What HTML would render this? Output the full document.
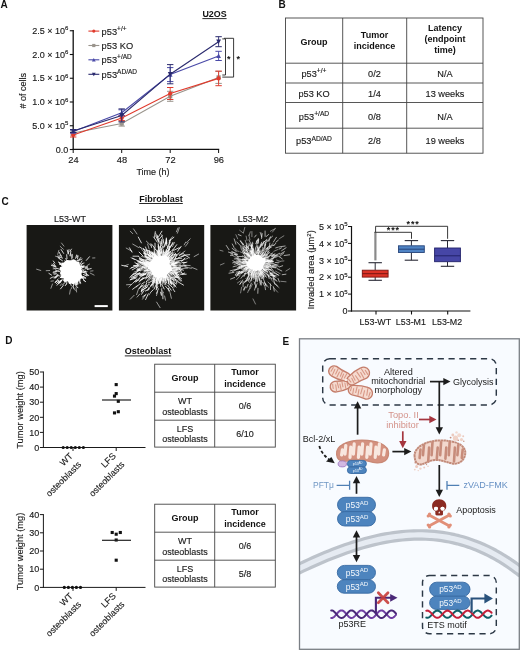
<!DOCTYPE html>
<html lang="en">
<head>
<meta charset="utf-8">
<title>Figure</title>
<style>
html,body{margin:0;padding:0;background:#fff;}
body{width:520px;height:650px;overflow:hidden;}
svg{display:block;font-family:"Liberation Sans", Arial, Helvetica, sans-serif;}
</style>
</head>
<body>
<svg width="520" height="650" viewBox="0 0 520 650">
<rect x="0" y="0" width="520" height="650" fill="#ffffff"/>
<g id="panelA">
<text x="0.4" y="8" font-size="10" text-anchor="start" font-weight="bold" fill="#111" >A</text>
<line x1="73.2" y1="30" x2="73.2" y2="150" stroke="#111" stroke-width="1.3" />
<line x1="72.6" y1="149.4" x2="219.2" y2="149.4" stroke="#111" stroke-width="1.3" />
<line x1="69.8" y1="149.5" x2="73.2" y2="149.5" stroke="#111" stroke-width="1.1" />
<text x="68.3" y="152.7" font-size="9" text-anchor="end" font-weight="normal" fill="#1a1a1a" stroke="#1a1a1a" stroke-width="0.14" >0.0</text>
<line x1="69.8" y1="125.75" x2="73.2" y2="125.75" stroke="#111" stroke-width="1.1" />
<text x="68.3" y="128.95" font-size="9" text-anchor="end" font-weight="normal" fill="#1a1a1a" stroke="#1a1a1a" stroke-width="0.14" >5.0 × 10<tspan font-size="6" dy="-3.5">5</tspan></text>
<line x1="69.8" y1="102.0" x2="73.2" y2="102.0" stroke="#111" stroke-width="1.1" />
<text x="68.3" y="105.2" font-size="9" text-anchor="end" font-weight="normal" fill="#1a1a1a" stroke="#1a1a1a" stroke-width="0.14" >1.0 × 10<tspan font-size="6" dy="-3.5">6</tspan></text>
<line x1="69.8" y1="78.25" x2="73.2" y2="78.25" stroke="#111" stroke-width="1.1" />
<text x="68.3" y="81.45" font-size="9" text-anchor="end" font-weight="normal" fill="#1a1a1a" stroke="#1a1a1a" stroke-width="0.14" >1.5 × 10<tspan font-size="6" dy="-3.5">6</tspan></text>
<line x1="69.8" y1="54.5" x2="73.2" y2="54.5" stroke="#111" stroke-width="1.1" />
<text x="68.3" y="57.7" font-size="9" text-anchor="end" font-weight="normal" fill="#1a1a1a" stroke="#1a1a1a" stroke-width="0.14" >2.0 × 10<tspan font-size="6" dy="-3.5">6</tspan></text>
<line x1="69.8" y1="30.75" x2="73.2" y2="30.75" stroke="#111" stroke-width="1.1" />
<text x="68.3" y="33.95" font-size="9" text-anchor="end" font-weight="normal" fill="#1a1a1a" stroke="#1a1a1a" stroke-width="0.14" >2.5 × 10<tspan font-size="6" dy="-3.5">6</tspan></text>
<line x1="73.2" y1="149.5" x2="73.2" y2="153" stroke="#111" stroke-width="1" />
<text x="73.4" y="162.6" font-size="9.3" text-anchor="middle" font-weight="normal" fill="#1a1a1a" stroke="#1a1a1a" stroke-width="0.14" >24</text>
<line x1="121.7" y1="149.5" x2="121.7" y2="153" stroke="#111" stroke-width="1" />
<text x="121.9" y="162.6" font-size="9.3" text-anchor="middle" font-weight="normal" fill="#1a1a1a" stroke="#1a1a1a" stroke-width="0.14" >48</text>
<line x1="170.2" y1="149.5" x2="170.2" y2="153" stroke="#111" stroke-width="1" />
<text x="170.39999999999998" y="162.6" font-size="9.3" text-anchor="middle" font-weight="normal" fill="#1a1a1a" stroke="#1a1a1a" stroke-width="0.14" >72</text>
<line x1="218.6" y1="149.5" x2="218.6" y2="153" stroke="#111" stroke-width="1" />
<text x="218.79999999999998" y="162.6" font-size="9.3" text-anchor="middle" font-weight="normal" fill="#1a1a1a" stroke="#1a1a1a" stroke-width="0.14" >96</text>
<text x="153" y="174.6" font-size="9" text-anchor="middle" font-weight="normal" fill="#1a1a1a" stroke="#1a1a1a" stroke-width="0.14" >Time (h)</text>
<text x="0" y="0" font-size="9" text-anchor="middle" font-weight="normal" fill="#1a1a1a" stroke="#1a1a1a" stroke-width="0.14" transform="translate(25.9,90.7) rotate(-90)"># of cells</text>
<text x="214.5" y="17.2" font-size="8.9" text-anchor="middle" font-weight="bold" fill="#111" >U2OS</text>
<line x1="202.4" y1="18.6" x2="226.6" y2="18.6" stroke="#111" stroke-width="0.9" />
<polyline points="73.2,133 121.7,123.6 170.2,96.3 218.6,77.4" fill="none" stroke="#9a948c" stroke-width="1.1"/>
<line x1="73.2" y1="131" x2="73.2" y2="135" stroke="#9a948c" stroke-width="0.9" />
<line x1="70.0" y1="131" x2="76.4" y2="131" stroke="#9a948c" stroke-width="1" />
<line x1="70.0" y1="135" x2="76.4" y2="135" stroke="#9a948c" stroke-width="1" />
<rect x="71.10000000000001" y="130.9" width="4.2" height="4.2" fill="#9a948c"/>
<line x1="121.7" y1="121.1" x2="121.7" y2="126.1" stroke="#9a948c" stroke-width="0.9" />
<line x1="118.5" y1="121.1" x2="124.9" y2="121.1" stroke="#9a948c" stroke-width="1" />
<line x1="118.5" y1="126.1" x2="124.9" y2="126.1" stroke="#9a948c" stroke-width="1" />
<rect x="119.60000000000001" y="121.5" width="4.2" height="4.2" fill="#9a948c"/>
<line x1="170.2" y1="91.3" x2="170.2" y2="101.3" stroke="#9a948c" stroke-width="0.9" />
<line x1="167.0" y1="91.3" x2="173.39999999999998" y2="91.3" stroke="#9a948c" stroke-width="1" />
<line x1="167.0" y1="101.3" x2="173.39999999999998" y2="101.3" stroke="#9a948c" stroke-width="1" />
<rect x="168.1" y="94.2" width="4.2" height="4.2" fill="#9a948c"/>
<line x1="218.6" y1="71.4" x2="218.6" y2="83.4" stroke="#9a948c" stroke-width="0.9" />
<line x1="215.4" y1="71.4" x2="221.79999999999998" y2="71.4" stroke="#9a948c" stroke-width="1" />
<line x1="215.4" y1="83.4" x2="221.79999999999998" y2="83.4" stroke="#9a948c" stroke-width="1" />
<rect x="216.5" y="75.30000000000001" width="4.2" height="4.2" fill="#9a948c"/>
<polyline points="73.2,135 121.7,118.1 170.2,93.5 218.6,78.4" fill="none" stroke="#e03a2c" stroke-width="1.1"/>
<line x1="73.2" y1="133" x2="73.2" y2="137" stroke="#e03a2c" stroke-width="0.9" />
<line x1="70.0" y1="133" x2="76.4" y2="133" stroke="#e03a2c" stroke-width="1" />
<line x1="70.0" y1="137" x2="76.4" y2="137" stroke="#e03a2c" stroke-width="1" />
<circle cx="73.2" cy="135" r="2.1" fill="#e03a2c"/>
<line x1="121.7" y1="115.6" x2="121.7" y2="120.6" stroke="#e03a2c" stroke-width="0.9" />
<line x1="118.5" y1="115.6" x2="124.9" y2="115.6" stroke="#e03a2c" stroke-width="1" />
<line x1="118.5" y1="120.6" x2="124.9" y2="120.6" stroke="#e03a2c" stroke-width="1" />
<circle cx="121.7" cy="118.1" r="2.1" fill="#e03a2c"/>
<line x1="170.2" y1="87.5" x2="170.2" y2="99.5" stroke="#e03a2c" stroke-width="0.9" />
<line x1="167.0" y1="87.5" x2="173.39999999999998" y2="87.5" stroke="#e03a2c" stroke-width="1" />
<line x1="167.0" y1="99.5" x2="173.39999999999998" y2="99.5" stroke="#e03a2c" stroke-width="1" />
<circle cx="170.2" cy="93.5" r="2.1" fill="#e03a2c"/>
<line x1="218.6" y1="71.10000000000001" x2="218.6" y2="85.7" stroke="#e03a2c" stroke-width="0.9" />
<line x1="215.4" y1="71.10000000000001" x2="221.79999999999998" y2="71.10000000000001" stroke="#e03a2c" stroke-width="1" />
<line x1="215.4" y1="85.7" x2="221.79999999999998" y2="85.7" stroke="#e03a2c" stroke-width="1" />
<circle cx="218.6" cy="78.4" r="2.1" fill="#e03a2c"/>
<polyline points="73.2,131.5 121.7,112.8 170.2,74.6 218.6,55.9" fill="none" stroke="#4a4aa8" stroke-width="1.1"/>
<line x1="73.2" y1="130.0" x2="73.2" y2="133.0" stroke="#4a4aa8" stroke-width="0.9" />
<line x1="70.0" y1="130.0" x2="76.4" y2="130.0" stroke="#4a4aa8" stroke-width="1" />
<line x1="70.0" y1="133.0" x2="76.4" y2="133.0" stroke="#4a4aa8" stroke-width="1" />
<path d="M70.80000000000001,133.6 L75.6,133.6 L73.2,129.1Z" fill="#4a4aa8"/>
<line x1="121.7" y1="109.8" x2="121.7" y2="115.8" stroke="#4a4aa8" stroke-width="0.9" />
<line x1="118.5" y1="109.8" x2="124.9" y2="109.8" stroke="#4a4aa8" stroke-width="1" />
<line x1="118.5" y1="115.8" x2="124.9" y2="115.8" stroke="#4a4aa8" stroke-width="1" />
<path d="M119.30000000000001,114.89999999999999 L124.1,114.89999999999999 L121.7,110.4Z" fill="#4a4aa8"/>
<line x1="170.2" y1="67.6" x2="170.2" y2="81.6" stroke="#4a4aa8" stroke-width="0.9" />
<line x1="167.0" y1="67.6" x2="173.39999999999998" y2="67.6" stroke="#4a4aa8" stroke-width="1" />
<line x1="167.0" y1="81.6" x2="173.39999999999998" y2="81.6" stroke="#4a4aa8" stroke-width="1" />
<path d="M167.79999999999998,76.69999999999999 L172.6,76.69999999999999 L170.2,72.2Z" fill="#4a4aa8"/>
<line x1="218.6" y1="51.3" x2="218.6" y2="60.5" stroke="#4a4aa8" stroke-width="0.9" />
<line x1="215.4" y1="51.3" x2="221.79999999999998" y2="51.3" stroke="#4a4aa8" stroke-width="1" />
<line x1="215.4" y1="60.5" x2="221.79999999999998" y2="60.5" stroke="#4a4aa8" stroke-width="1" />
<path d="M216.2,58.0 L221.0,58.0 L218.6,53.5Z" fill="#4a4aa8"/>
<polyline points="73.2,131 121.7,115.4 170.2,74.2 218.6,41.7" fill="none" stroke="#2a2a6e" stroke-width="1.1"/>
<line x1="73.2" y1="129.5" x2="73.2" y2="132.5" stroke="#2a2a6e" stroke-width="0.9" />
<line x1="70.0" y1="129.5" x2="76.4" y2="129.5" stroke="#2a2a6e" stroke-width="1" />
<line x1="70.0" y1="132.5" x2="76.4" y2="132.5" stroke="#2a2a6e" stroke-width="1" />
<path d="M70.80000000000001,128.9 L75.6,128.9 L73.2,133.4Z" fill="#2a2a6e"/>
<line x1="121.7" y1="108.9" x2="121.7" y2="121.9" stroke="#2a2a6e" stroke-width="0.9" />
<line x1="118.5" y1="108.9" x2="124.9" y2="108.9" stroke="#2a2a6e" stroke-width="1" />
<line x1="118.5" y1="121.9" x2="124.9" y2="121.9" stroke="#2a2a6e" stroke-width="1" />
<path d="M119.30000000000001,113.30000000000001 L124.1,113.30000000000001 L121.7,117.8Z" fill="#2a2a6e"/>
<line x1="170.2" y1="64.60000000000001" x2="170.2" y2="83.8" stroke="#2a2a6e" stroke-width="0.9" />
<line x1="167.0" y1="64.60000000000001" x2="173.39999999999998" y2="64.60000000000001" stroke="#2a2a6e" stroke-width="1" />
<line x1="167.0" y1="83.8" x2="173.39999999999998" y2="83.8" stroke="#2a2a6e" stroke-width="1" />
<path d="M167.79999999999998,72.10000000000001 L172.6,72.10000000000001 L170.2,76.6Z" fill="#2a2a6e"/>
<line x1="218.6" y1="36.7" x2="218.6" y2="46.7" stroke="#2a2a6e" stroke-width="0.9" />
<line x1="215.4" y1="36.7" x2="221.79999999999998" y2="36.7" stroke="#2a2a6e" stroke-width="1" />
<line x1="215.4" y1="46.7" x2="221.79999999999998" y2="46.7" stroke="#2a2a6e" stroke-width="1" />
<path d="M216.2,39.6 L221.0,39.6 L218.6,44.1Z" fill="#2a2a6e"/>
<line x1="88.4" y1="31.1" x2="99.3" y2="31.1" stroke="#e03a2c" stroke-width="1.1" />
<circle cx="93.8" cy="31.1" r="1.6" fill="#e03a2c"/>
<text x="101.6" y="34.5" font-size="9.3" text-anchor="start" font-weight="normal" fill="#1a1a1a" stroke="#1a1a1a" stroke-width="0.14" >p53<tspan font-size="6.5" dy="-4">+/+</tspan></text>
<line x1="88.4" y1="45.5" x2="99.3" y2="45.5" stroke="#9a948c" stroke-width="1.1" />
<rect x="92.2" y="43.9" width="3.2" height="3.2" fill="#9a948c"/>
<text x="101.6" y="48.9" font-size="9.3" text-anchor="start" font-weight="normal" fill="#1a1a1a" stroke="#1a1a1a" stroke-width="0.14" >p53 KO</text>
<line x1="88.4" y1="59.8" x2="99.3" y2="59.8" stroke="#4a4aa8" stroke-width="1.1" />
<path d="M91.9,61.4 L95.69999999999999,61.4 L93.8,57.9Z" fill="#4a4aa8"/>
<text x="101.6" y="63.199999999999996" font-size="9.3" text-anchor="start" font-weight="normal" fill="#1a1a1a" stroke="#1a1a1a" stroke-width="0.14" >p53<tspan font-size="6.5" dy="-4">+/AD</tspan></text>
<line x1="88.4" y1="74.3" x2="99.3" y2="74.3" stroke="#2a2a6e" stroke-width="1.1" />
<path d="M91.9,72.7 L95.69999999999999,72.7 L93.8,76.19999999999999Z" fill="#2a2a6e"/>
<text x="101.6" y="77.7" font-size="9.3" text-anchor="start" font-weight="normal" fill="#1a1a1a" stroke="#1a1a1a" stroke-width="0.14" >p53<tspan font-size="6.5" dy="-4">AD/AD</tspan></text>
<path d="M222.3,38.9 H225.5 V75 H222.3" fill="none" stroke="#222" stroke-width="0.9"/>
<path d="M224,38.3 H233.6 V77.1 H222.3" fill="none" stroke="#222" stroke-width="0.9"/>
<text x="228.7" y="61.8" font-size="9" text-anchor="middle" font-weight="bold" fill="#111" >*</text>
<text x="238.2" y="61.8" font-size="9" text-anchor="middle" font-weight="bold" fill="#111" >*</text>
</g>
<g id="panelB">
<text x="278.6" y="8" font-size="10" text-anchor="start" font-weight="bold" fill="#111" >B</text>
<rect x="285.5" y="18" width="197.5" height="135.2" fill="#fff" stroke="#444" stroke-width="0.9"/>
<line x1="342.7" y1="18" x2="342.7" y2="153.2" stroke="#444" stroke-width="0.9" />
<line x1="406.7" y1="18" x2="406.7" y2="153.2" stroke="#444" stroke-width="0.9" />
<line x1="285.5" y1="63.2" x2="483" y2="63.2" stroke="#444" stroke-width="0.9" />
<line x1="285.5" y1="83" x2="483" y2="83" stroke="#444" stroke-width="0.9" />
<line x1="285.5" y1="102.5" x2="483" y2="102.5" stroke="#444" stroke-width="0.9" />
<line x1="285.5" y1="128.2" x2="483" y2="128.2" stroke="#444" stroke-width="0.9" />
<text x="314" y="44.5" font-size="9" text-anchor="middle" font-weight="bold" fill="#111" >Group</text>
<text x="374.5" y="37.5" font-size="9" text-anchor="middle" font-weight="bold" fill="#111" >Tumor</text>
<text x="374.5" y="48.8" font-size="9" text-anchor="middle" font-weight="bold" fill="#111" >incidence</text>
<text x="445" y="31.3" font-size="9" text-anchor="middle" font-weight="bold" fill="#111" >Latency</text>
<text x="445" y="42.2" font-size="9" text-anchor="middle" font-weight="bold" fill="#111" >(endpoint</text>
<text x="445" y="53.2" font-size="9" text-anchor="middle" font-weight="bold" fill="#111" >time)</text>
<text x="314" y="76.8" font-size="9.2" text-anchor="middle" font-weight="normal" fill="#1a1a1a" stroke="#1a1a1a" stroke-width="0.14" >p53<tspan font-size="6.7" dy="-3.5">+/+</tspan></text>
<text x="374.5" y="76.8" font-size="9.2" text-anchor="middle" font-weight="normal" fill="#1a1a1a" stroke="#1a1a1a" stroke-width="0.14" >0/2</text>
<text x="445" y="76.8" font-size="9.2" text-anchor="middle" font-weight="normal" fill="#1a1a1a" stroke="#1a1a1a" stroke-width="0.14" >N/A</text>
<text x="314" y="96.6" font-size="9.2" text-anchor="middle" font-weight="normal" fill="#1a1a1a" stroke="#1a1a1a" stroke-width="0.14" >p53 KO</text>
<text x="374.5" y="96.6" font-size="9.2" text-anchor="middle" font-weight="normal" fill="#1a1a1a" stroke="#1a1a1a" stroke-width="0.14" >1/4</text>
<text x="445" y="96.6" font-size="9.2" text-anchor="middle" font-weight="normal" fill="#1a1a1a" stroke="#1a1a1a" stroke-width="0.14" >13 weeks</text>
<text x="314" y="119.5" font-size="9.2" text-anchor="middle" font-weight="normal" fill="#1a1a1a" stroke="#1a1a1a" stroke-width="0.14" >p53<tspan font-size="6.7" dy="-3.5">+/AD</tspan></text>
<text x="374.5" y="119.5" font-size="9.2" text-anchor="middle" font-weight="normal" fill="#1a1a1a" stroke="#1a1a1a" stroke-width="0.14" >0/8</text>
<text x="445" y="119.5" font-size="9.2" text-anchor="middle" font-weight="normal" fill="#1a1a1a" stroke="#1a1a1a" stroke-width="0.14" >N/A</text>
<text x="314" y="144.2" font-size="9.2" text-anchor="middle" font-weight="normal" fill="#1a1a1a" stroke="#1a1a1a" stroke-width="0.14" >p53<tspan font-size="6.7" dy="-3.5">AD/AD</tspan></text>
<text x="374.5" y="144.2" font-size="9.2" text-anchor="middle" font-weight="normal" fill="#1a1a1a" stroke="#1a1a1a" stroke-width="0.14" >2/8</text>
<text x="445" y="144.2" font-size="9.2" text-anchor="middle" font-weight="normal" fill="#1a1a1a" stroke="#1a1a1a" stroke-width="0.14" >19 weeks</text>
</g>
<g id="panelC">
<text x="1.4" y="204.6" font-size="10" text-anchor="start" font-weight="bold" fill="#111" >C</text>
<text x="161" y="201.9" font-size="9" text-anchor="middle" font-weight="bold" fill="#111" >Fibroblast</text>
<line x1="139.2" y1="203.5" x2="182.8" y2="203.5" stroke="#111" stroke-width="0.9" />
<text x="70" y="221.5" font-size="9" text-anchor="middle" font-weight="normal" fill="#1a1a1a" stroke="#1a1a1a" stroke-width="0.14" >L53-WT</text>
<text x="161.5" y="221.5" font-size="9" text-anchor="middle" font-weight="normal" fill="#1a1a1a" stroke="#1a1a1a" stroke-width="0.14" >L53-M1</text>
<text x="253" y="221.5" font-size="9" text-anchor="middle" font-weight="normal" fill="#1a1a1a" stroke="#1a1a1a" stroke-width="0.14" >L53-M2</text>
<defs><filter id="bl" x="-20%" y="-20%" width="140%" height="140%"><feGaussianBlur stdDeviation="0.35"/></filter><filter id="bl2" x="-30%" y="-30%" width="160%" height="160%"><feGaussianBlur stdDeviation="1.1"/></filter></defs>
<clipPath id="cp1"><rect x="26.6" y="225" width="85.8" height="85.5"/></clipPath>
<rect x="26.6" y="225" width="85.8" height="85.5" fill="#181815"/>
<g clip-path="url(#cp1)">
<path d="M58.7,275.2L55.1,278.3M62.4,265.8L59.5,263.7M59.4,258.6L57.8,257.1M76.8,257.3L77.8,255.5M87.4,269.5L91.2,268.5M82.8,272.4L85.0,272.3M74.9,280.5L76.3,282.0M78.4,260.5L80.8,257.5M56.6,271.3L53.3,272.0M85.4,270.9L87.0,274.7M67.3,280.5L65.0,282.2M58.6,280.5L55.7,281.6M85.6,267.4L87.6,267.3M51.6,275.1L48.9,273.4M81.9,276.5L85.8,278.4M63.2,285.5L60.5,288.9M78.6,278.0L79.2,280.2M76.2,281.4L77.0,284.7M75.8,282.7L76.9,284.8M62.3,276.2L60.0,277.9M85.2,268.7L88.1,268.7M59.0,281.0L56.3,283.8M83.5,280.2L85.7,281.7M66.3,280.5L64.3,281.5M81.0,277.4L83.6,278.2M53.2,276.8L50.2,278.4M54.8,263.0L53.3,261.0M75.8,261.5L78.0,260.2M70.0,251.2L71.5,249.1M61.2,263.6L59.1,262.7M86.1,275.0L88.7,275.4M77.5,259.0L78.0,256.2M76.8,282.1L77.7,284.1M79.5,260.3L82.0,259.0M80.1,266.3L81.8,265.2M80.3,274.9L82.5,277.0M62.3,266.9L61.2,264.0M62.6,258.1L59.0,256.8M77.1,278.3L77.6,280.3M80.2,269.2L83.5,267.2M56.1,273.0L53.1,272.9M55.9,266.7L51.4,265.4M70.0,255.6L70.9,251.3M63.6,253.4L61.1,249.5M58.1,278.9L55.5,282.6M61.9,279.9L59.7,283.0M81.6,277.0L84.7,281.0M60.5,280.4L58.8,283.7M56.2,277.2L54.1,278.0M60.7,263.4L58.4,262.0M67.0,258.6L66.7,254.7M81.6,272.0L85.7,271.8M74.1,280.5L76.4,284.6M79.9,264.4L82.0,261.0M74.7,281.4L73.4,285.6M61.8,279.7L60.4,282.4M78.5,279.5L80.2,283.7M81.2,268.1L83.1,266.3M61.0,274.6L59.0,276.4M60.0,271.7L55.6,270.8M82.5,270.0L84.4,271.3M83.4,274.5L86.8,276.0M66.4,284.0L65.2,285.7M84.8,273.4L87.3,274.6M77.1,278.4L80.6,280.0M61.4,256.7L59.3,252.3M67.1,261.6L65.8,258.4M56.5,273.9L54.0,274.2M69.8,281.7L71.2,285.5M71.8,259.1L71.7,254.7M79.2,266.0L83.1,263.2M58.1,275.3L53.9,277.4M62.3,280.1L58.3,282.4M57.5,274.5L56.1,276.8M68.2,254.0L67.3,250.1M86.3,260.4L89.5,256.7M55.0,267.4L53.0,265.3M65.8,279.0L65.0,282.2M55.6,266.2L53.6,263.4M83.3,276.4L85.5,277.6M64.2,283.3L62.5,285.0M68.3,253.6L69.0,249.6M82.4,267.3L87.3,266.7M60.2,269.4L56.2,268.2M62.5,260.8L58.7,258.2M60.1,281.7L57.0,285.3M74.7,284.1L77.9,287.8M74.7,281.9L76.0,285.2M64.0,265.6L59.4,264.2M75.6,258.4L76.6,255.0M67.9,262.4L64.6,260.9M80.6,266.4L84.0,266.3M78.7,278.9L80.7,282.9M67.2,280.3L66.5,284.1M79.9,266.9L84.2,265.9" stroke="#fff" stroke-width="0.8" stroke-linecap="round" fill="none" opacity="1" filter="url(#bl)"/>
<path d="M73.4,285.8L73.7,288.8M61.6,283.7L60.2,285.6M59.0,270.5L56.4,270.8M56.2,268.4L53.1,268.9M76.8,280.0L78.1,283.6M59.8,257.7L55.5,256.2M73.0,286.6L75.3,290.4M81.5,264.1L84.2,263.0M90.6,271.1L93.0,270.8M72.3,286.5L71.1,289.0M53.4,280.9L51.0,281.2M56.7,281.5L54.9,282.4M92.6,258.0L94.9,257.9M49.7,270.5L46.2,270.7M80.1,275.5L82.1,276.0M55.2,265.9L51.8,264.2M76.0,287.1L76.6,292.0M80.2,266.9L82.4,266.7M72.6,257.7L72.5,254.3M56.2,269.8L53.1,267.6M77.5,262.0L79.5,259.3M70.3,256.2L70.7,253.6M90.2,273.1L94.1,275.1M63.9,246.1L61.5,243.0M40.8,270.5L36.6,269.2M70.3,289.9L69.6,294.1M52.5,284.0L50.9,288.3M63.4,249.3L60.2,246.4M81.7,276.2L84.1,278.6M83.2,272.1L87.1,271.6M86.9,265.7L89.5,264.1M61.3,255.6L57.7,256.1M57.7,254.4L58.9,250.3M80.4,270.2L84.2,269.6M63.6,276.8L61.9,278.8" stroke="#fff" stroke-width="0.6" stroke-linecap="round" fill="none" opacity="0.9" filter="url(#bl)"/>
<polygon points="82.6,271.3 81.6,273.1 81.6,275.0 82.7,277.9 80.4,279.0 78.9,280.3 78.0,282.8 75.4,282.6 73.6,284.5 71.3,283.5 69.1,283.9 67.8,281.0 65.3,281.8 63.2,281.0 63.5,277.9 59.9,277.9 61.3,274.9 59.8,273.3 60.7,271.3 59.7,269.3 59.9,267.2 62.4,266.2 61.1,262.8 63.9,262.5 65.4,261.0 67.2,259.9 69.3,260.2 71.3,260.3 73.4,259.2 75.4,260.1 76.8,261.7 79.3,261.7 79.8,264.2 80.1,266.2 81.5,267.6 81.4,269.5" fill="#fff" filter="url(#bl)"/>
</g>
<clipPath id="cp2"><rect x="118.9" y="225" width="85.3" height="85.5"/></clipPath>
<rect x="118.9" y="225" width="85.3" height="85.5" fill="#181815"/>
<g clip-path="url(#cp2)">
<circle cx="160.3" cy="266.8" r="16" fill="#fff" opacity="0.45" filter="url(#bl2)"/>
<path d="M183.1,255.2L189.7,254.7M145.4,274.5L142.0,275.4M165.2,279.7L166.9,283.2M175.5,275.9L179.5,278.4M138.3,265.1L134.8,262.4M143.0,256.0L139.1,252.1M172.9,264.4L178.3,261.6M153.1,255.4L152.4,252.2M139.3,270.3L134.9,273.5M164.7,276.4L165.8,280.5M164.8,256.6L166.4,253.5M157.7,282.9L156.3,289.0M153.7,278.6L152.5,282.5M148.4,263.0L146.2,260.4M164.6,246.9L166.1,240.7M174.8,258.7L181.6,258.2M173.0,289.0L174.8,291.7M167.5,248.5L170.2,242.2M169.8,240.4L173.9,237.3M144.0,290.5L141.6,294.3M163.6,275.6L164.0,280.5M170.8,263.4L173.9,264.9M149.4,264.8L144.4,263.3M137.0,279.3L133.5,282.5M146.7,287.4L141.4,290.7M143.2,277.3L139.1,282.1M152.5,257.4L148.6,255.9M143.5,260.5L138.6,256.5M173.0,277.1L177.3,277.4M160.6,292.2L161.4,295.4M143.9,260.1L139.9,260.0M140.2,273.4L137.5,274.7M144.6,282.1L141.7,284.2M155.6,256.7L152.9,252.7M151.7,271.3L148.7,276.3M142.9,262.4L138.0,260.9M153.2,289.8L150.8,292.1M137.2,267.1L132.2,269.9M149.9,258.8L146.2,256.8M172.5,263.6L177.1,263.6M139.8,278.1L136.2,281.5M158.6,276.3L158.3,280.1M158.4,288.8L156.5,293.4M171.4,277.4L174.0,281.4M167.8,257.5L171.9,252.6M154.2,259.9L155.8,253.9M158.2,279.7L157.3,283.2M159.2,252.3L158.1,246.7M157.8,276.0L156.8,282.6M183.3,263.3L186.9,262.1M176.4,268.7L180.0,269.0M155.7,249.4L152.0,244.5M168.0,250.8L169.9,245.8M177.7,278.3L180.5,280.9M148.5,272.7L146.2,277.6M147.5,272.2L142.7,275.2M159.4,238.9L162.2,235.6M170.3,265.7L173.5,262.6M163.9,243.2L163.0,240.2M161.2,249.8L162.7,246.3M152.5,272.0L150.8,275.9M147.4,258.7L144.7,255.7M152.9,283.8L149.8,287.4M132.0,252.2L129.5,247.8M149.2,256.0L149.6,250.5M152.1,253.7L149.3,252.0M167.8,255.0L170.5,251.4M137.3,285.7L132.6,289.3M155.1,247.3L155.0,243.2M174.8,272.9L178.2,276.6M150.3,264.1L147.0,263.8M151.9,256.4L148.5,252.0M160.3,248.3L160.9,243.2M171.8,265.2L175.9,265.9M142.7,267.5L136.8,269.3M179.7,269.5L182.5,274.0M168.8,260.7L174.5,260.0M177.6,281.6L183.5,285.1M175.7,279.7L176.8,282.9M154.6,237.2L155.3,231.7M147.6,265.9L143.2,263.0M168.1,259.0L172.2,254.7M159.2,257.3L159.2,251.0M176.0,273.1L178.9,275.2M168.8,265.5L175.0,264.7M138.5,256.2L133.0,256.2M172.8,281.8L176.6,284.0M171.8,258.9L176.2,254.3M170.9,272.8L176.6,272.8M165.6,286.3L169.5,291.0M166.6,274.7L167.6,279.9M145.6,274.0L140.2,277.1M143.0,264.4L138.9,260.8M166.7,256.6L168.3,251.4M169.2,248.7L173.2,243.1M146.2,266.1L142.4,266.2M127.7,266.6L121.7,265.3M143.3,285.0L139.5,288.0M168.5,279.6L168.9,283.6M179.7,265.7L185.7,266.0M169.1,279.4L172.2,284.0M182.1,274.4L186.2,274.2M159.2,251.1L158.2,245.0M146.0,273.8L140.1,275.7M144.3,277.8L140.7,280.5M179.5,248.8L181.2,246.3M173.6,250.4L178.8,247.9M162.8,248.3L166.1,242.2M176.5,261.2L183.1,260.2M143.3,263.6L137.1,260.8M147.5,252.1L145.5,247.0M159.1,248.4L158.2,243.9M154.7,275.7L153.5,278.5M172.7,273.7L175.9,276.8M178.4,257.7L183.8,256.0M172.2,277.5L175.7,279.4M173.9,265.5L180.4,264.9M145.5,251.6L143.2,248.3M184.5,254.8L189.4,257.8M171.2,281.4L175.3,285.7M158.7,253.2L155.4,249.3M172.4,270.9L176.7,270.7M162.9,257.0L164.2,254.0M137.1,276.8L132.9,278.1M174.0,276.9L178.3,277.4M139.6,272.7L134.8,275.5M172.8,250.1L176.7,244.7M137.3,266.1L131.3,267.7M157.2,242.1L153.6,237.0M173.9,270.6L179.8,271.5M179.3,255.3L183.6,253.2M154.0,257.2L154.4,254.1M172.3,255.2L175.6,254.2M161.6,243.5L161.7,239.5M149.3,265.2L144.3,267.5M168.3,274.0L170.9,277.7M173.6,266.9L180.4,268.0M166.0,256.7L167.3,253.0M151.8,256.8L149.9,253.5M168.4,288.3L169.2,291.4M148.9,263.9L144.0,260.6M159.6,257.9L159.3,253.2M153.3,280.3L148.4,282.9M157.8,286.8L156.2,289.9M169.1,272.7L171.9,274.6M178.0,277.5L181.8,281.0M143.5,267.2L137.2,266.7M155.9,259.3L153.5,254.8M142.0,248.5L139.4,246.9M152.3,262.4L147.7,258.6M175.3,262.6L181.0,263.1M166.9,252.6L166.4,249.3M166.9,243.7L166.4,238.0M150.7,257.4L151.1,251.3M162.1,278.0L158.9,283.8M146.4,277.3L141.2,279.6M169.5,260.3L171.7,257.8M151.3,271.4L148.4,273.0M151.8,262.9L147.9,261.7M169.2,242.5L170.5,239.7M164.1,256.6L168.7,252.8M170.9,262.0L174.5,261.2M147.6,286.6L142.5,290.0M158.3,237.1L161.9,231.2M170.2,282.1L171.5,284.9M161.5,277.8L160.2,282.0M133.5,273.8L129.7,277.5M167.8,285.3L171.2,290.3M166.2,253.0L169.7,249.2M141.4,242.9L138.3,237.1M149.3,284.3L143.7,287.4M148.9,287.7L147.8,290.5M145.6,260.2L139.3,258.5M164.9,274.6L168.7,279.2M163.2,253.1L163.2,249.2M146.6,264.5L142.3,264.1M155.9,255.3L151.9,253.5M167.3,276.5L170.7,278.8M154.3,280.8L150.5,285.8M144.2,274.1L139.2,273.7M151.3,260.0L145.9,259.2M147.8,258.2L143.8,252.6M164.1,274.7L165.8,277.8M159.4,257.0L158.4,252.9M153.9,260.6L152.8,256.0M140.2,283.6L136.2,287.0M165.3,254.4L166.2,250.0M156.5,256.7L152.8,253.9M155.5,277.2L154.1,280.4M154.9,273.8L152.4,279.1M153.4,259.9L152.1,253.2M167.2,248.0L168.2,245.0M158.6,278.1L159.1,281.1M146.8,282.6L145.5,286.3M158.4,276.6L156.7,280.1M158.2,241.2L155.9,236.0M141.9,288.7L141.7,292.0M154.5,254.0L154.2,247.7M161.3,245.7L160.7,241.7M168.8,253.3L169.5,246.7M158.1,255.4L158.0,250.1M146.1,294.3L142.6,296.9M166.2,243.7L166.3,239.2M149.8,277.3L146.2,281.9M149.4,266.2L144.2,268.3M136.3,275.3L131.1,277.4M151.4,252.5L147.5,250.1M151.5,270.4L147.6,271.0M168.9,269.8L173.3,270.1M163.7,277.5L163.9,282.2M157.3,278.2L156.0,283.0M174.1,268.0L180.7,267.7M150.6,256.2L144.7,252.6M165.3,259.2L165.2,255.4M163.9,253.0L169.5,249.5M149.3,256.3L146.5,250.7M144.7,263.3L141.1,262.3M157.3,276.0L156.9,279.0M157.6,275.5L156.4,280.3M147.8,269.7L144.0,270.3M147.0,263.3L145.6,260.4M161.7,284.2L164.2,289.0M160.4,282.3L160.7,286.4M170.9,269.9L176.4,274.2M162.0,253.5L160.6,246.7M149.6,288.7L145.4,291.0M167.4,259.4L169.3,255.2M167.1,259.1L171.5,257.6M164.6,275.0L165.4,278.5M136.1,278.1L130.7,279.7M161.2,253.4L160.6,249.2M171.8,268.3L178.3,270.0M174.1,271.4L177.8,272.6M138.6,265.4L133.7,265.6M173.9,284.0L174.1,287.0M177.6,251.3L180.0,247.5M148.9,255.2L143.7,253.6M154.5,282.1L152.1,284.3M180.6,274.6L184.7,273.1M158.4,256.1L161.1,251.7M141.7,268.8L137.7,269.8M145.5,256.6L144.7,250.9M160.5,255.7L159.3,249.7M148.3,293.8L145.6,299.6M172.8,258.1L175.5,253.3M146.5,263.6L140.7,259.9M151.1,266.7L145.0,265.3M149.2,270.2L144.4,270.8M144.6,273.0L139.5,275.3M161.1,276.7L161.9,280.9M136.1,273.5L133.1,274.1M158.8,241.9L157.1,235.2M151.9,262.5L147.8,262.5M182.1,262.4L185.4,262.5M171.8,278.9L175.3,280.5M146.8,262.9L140.2,262.4M156.8,279.5L155.9,283.0M154.6,260.0L152.6,256.5M168.9,244.3L170.2,240.2M148.9,251.1L143.2,249.2M154.9,278.4L153.0,282.0M149.2,264.0L146.6,261.9M171.1,268.5L174.5,267.4M140.9,262.5L136.3,263.6M176.8,275.1L181.6,278.8M151.5,247.4L150.9,243.8M149.6,275.9L145.4,279.0M141.4,285.4L139.3,288.5M169.0,284.3L173.1,287.9M175.6,273.1L179.3,274.9M134.2,276.9L130.2,279.8M156.6,283.6L154.2,288.9M166.8,272.5L169.4,276.3M168.0,279.1L168.8,284.0M172.4,264.7L176.1,263.0M161.0,278.2L158.8,283.6M150.8,265.0L144.9,262.6M145.0,262.2L139.6,259.3M170.3,280.3L171.2,283.9M161.9,256.9L163.5,254.2M165.1,281.8L165.9,284.9M159.1,243.3L158.8,238.8M164.6,256.8L163.4,250.8M166.4,245.3L166.2,238.9M160.1,275.8L160.0,279.4M144.2,267.5L141.4,268.8M174.7,259.6L176.7,254.6M143.2,269.8L137.1,270.7M172.4,283.0L176.1,287.1M147.3,265.6L144.4,264.8M169.7,248.2L172.9,242.4M170.1,260.9L172.7,257.8M140.4,270.8L137.5,269.0M178.8,268.4L183.4,270.2M181.5,261.3L185.0,258.0M159.7,275.6L160.3,282.6M137.1,260.3L132.4,258.2M162.8,292.6L162.9,298.8M156.5,280.7L156.7,287.6M149.4,264.8L144.2,263.9" stroke="#fff" stroke-width="0.8" stroke-linecap="round" fill="none" opacity="1" filter="url(#bl)"/>
<path d="M175.8,274.3L177.6,277.2M148.4,266.4L143.9,265.6M171.8,257.0L172.3,252.9M145.7,253.7L141.9,249.7M139.8,294.0L137.1,297.1M168.9,240.9L172.6,236.6M184.9,267.1L191.4,268.3M162.4,277.2L162.5,280.8M134.2,266.5L129.9,268.8M177.4,233.2L179.3,227.7M150.6,267.0L146.6,265.8M158.7,255.8L161.5,252.4M140.0,277.6L135.1,282.4M131.4,284.4L126.5,284.8M162.6,245.2L163.3,239.4M138.5,274.4L134.0,278.1M146.4,257.6L141.6,256.5M156.1,275.6L154.7,278.5M165.8,275.0L166.9,279.4M179.5,255.0L185.0,251.1M137.0,234.0L133.5,228.9M174.1,263.4L179.6,262.1M194.1,256.6L198.6,254.1M156.9,256.9L157.4,250.7M175.2,267.1L180.6,270.5M171.8,253.8L173.0,249.3M140.1,269.5L136.6,271.1M178.7,269.0L181.7,270.3M151.2,263.2L147.5,263.9M184.0,265.1L190.2,265.6M141.9,274.7L136.9,273.4M181.6,268.5L187.5,268.2M185.4,246.3L188.2,242.7M170.0,292.5L171.4,298.3M167.4,253.9L172.2,250.2M155.0,279.7L152.0,286.0M191.7,267.4L197.0,269.5M175.8,255.5L180.1,252.3M150.4,256.6L146.8,252.5M158.6,257.8L158.0,251.2M164.6,296.0L165.5,300.2M156.1,255.2L153.7,252.1M156.6,302.1L160.1,307.7M170.3,262.5L175.7,263.4M163.6,280.6L164.3,284.8M163.2,280.5L162.3,284.0M157.6,291.6L156.5,295.6M172.5,268.9L177.5,269.7M154.4,281.6L152.9,287.5M171.3,256.4L174.3,252.0M143.6,286.9L141.2,291.6M171.4,272.6L177.1,275.6M174.4,259.7L177.6,259.0M170.8,277.8L170.8,281.1M144.3,267.2L137.8,264.6M172.3,246.7L174.6,242.4M161.5,257.6L162.7,254.1M150.9,245.6L146.3,241.1M160.2,278.3L159.0,282.2M162.7,238.9L161.7,234.6M157.9,237.9L155.7,233.4M148.0,270.4L143.0,272.2M168.5,256.4L170.6,252.3M181.3,256.3L184.6,255.5M144.2,265.1L140.2,263.1M145.4,285.0L142.5,286.9M141.8,264.7L137.5,261.2M146.5,264.6L143.1,263.1M163.7,258.6L165.3,253.5M170.8,264.5L174.5,264.9M174.7,267.8L177.5,269.6M170.9,262.9L176.2,261.9M171.4,264.2L174.8,263.0M131.9,251.2L126.2,248.1M173.9,278.6L178.2,281.0M151.0,259.5L146.7,255.7M167.6,271.4L173.6,273.7M140.8,265.2L138.0,264.0M176.4,231.8L178.0,227.9M149.1,249.0L147.6,244.0M149.4,257.7L144.5,256.6M132.8,233.7L130.3,231.2M137.5,265.3L133.9,265.7M134.6,259.5L131.0,257.7M147.9,269.8L143.8,267.6M150.5,278.3L148.2,281.3M184.2,244.9L185.7,242.1M161.8,288.1L161.5,294.4M134.1,295.3L130.3,299.2M170.5,278.1L171.5,283.3M164.4,276.2L165.6,280.5M137.6,270.8L134.1,272.1M138.6,288.7L136.6,294.6M172.6,267.3L176.9,266.7M175.2,272.4L180.6,273.0M128.3,264.5L124.6,265.8M156.6,278.9L154.3,282.5M175.2,257.6L178.3,254.2M153.4,260.6L149.0,258.3M140.4,279.9L135.0,281.4M177.9,266.9L182.5,266.2M164.6,255.7L166.7,252.2M145.4,295.2L142.5,299.2M150.7,292.4L149.1,295.0M161.4,289.7L163.4,292.4M135.4,273.2L131.1,276.1M186.5,242.8L190.2,238.8M168.1,252.1L167.8,246.5M133.3,282.8L128.8,287.1M183.0,264.9L186.8,266.0M150.2,268.1L146.1,268.3M138.6,247.5L132.7,244.1M151.6,271.1L148.4,274.5M166.3,259.1L167.2,254.5M158.5,252.7L159.6,246.5M152.9,260.8L148.3,257.3M183.8,259.6L187.9,258.4M151.2,263.0L146.9,261.3M159.0,277.3L157.1,283.6M169.1,281.5L172.3,283.8" stroke="#fff" stroke-width="0.6" stroke-linecap="round" fill="none" opacity="0.95" filter="url(#bl)"/>
<polygon points="171.7,266.8 171.9,268.9 172.2,271.1 169.4,272.0 168.4,273.6 166.9,274.7 166.6,277.8 164.5,278.3 162.2,277.4 160.3,277.8 158.2,278.9 156.4,277.6 154.5,276.8 153.2,275.2 151.4,274.2 151.9,271.6 150.7,270.3 148.1,268.9 147.7,266.8 149.0,264.8 149.2,262.8 150.7,261.3 152.0,259.8 152.9,258.0 154.2,256.3 156.0,255.0 158.5,256.5 160.3,255.7 162.2,255.9 164.4,255.5 166.5,256.0 168.5,257.0 169.4,259.2 170.3,261.0 169.7,263.4 170.0,265.1" fill="#fff" filter="url(#bl)"/>
</g>
<clipPath id="cp3"><rect x="210.4" y="225" width="85.7" height="85.5"/></clipPath>
<rect x="210.4" y="225" width="85.7" height="85.5" fill="#181815"/>
<g clip-path="url(#cp3)">
<circle cx="256.2" cy="262.8" r="13" fill="#fff" opacity="0.4" filter="url(#bl2)"/>
<path d="M252.9,255.5L252.6,250.9M240.1,261.3L236.7,263.0M248.2,261.4L243.4,261.6M243.4,275.1L241.0,278.3M284.2,255.5L289.6,254.8M253.5,273.8L251.9,278.5M263.7,248.6L265.5,244.2M246.9,261.2L242.9,260.7M273.7,263.8L278.8,266.4M267.9,264.5L270.8,265.6M268.9,247.5L273.0,243.6M251.6,248.8L252.9,243.2M248.6,255.3L244.4,252.7M250.8,257.8L247.8,255.0M249.8,260.4L246.5,257.1M252.4,268.8L247.9,272.8M264.3,266.3L268.2,268.0M241.5,265.2L237.2,264.1M253.7,271.7L254.2,276.6M262.1,259.3L265.4,258.2M249.4,259.9L244.3,259.2M265.1,287.1L265.5,289.7M264.6,245.4L266.5,240.1M233.0,255.3L230.4,255.3M267.1,247.8L269.6,245.9M266.7,263.1L271.0,263.0M272.0,265.6L276.1,265.1M235.9,244.2L234.2,238.9M273.5,241.9L276.4,237.3M241.4,267.9L235.9,269.8M247.2,249.8L245.5,247.6M260.7,268.5L264.2,272.2M271.6,256.8L274.2,255.8M251.6,245.1L248.9,239.9M261.1,271.2L260.3,274.7M250.4,257.1L248.7,253.3M278.0,278.4L279.4,281.9M248.5,276.7L245.9,281.3M269.5,269.6L274.6,272.4M252.7,256.1L251.6,250.9M265.1,236.4L265.1,231.0M240.2,259.1L234.3,258.9M264.1,274.0L266.4,277.3M259.7,246.7L261.7,242.2M255.6,275.9L255.1,278.9M242.8,244.6L240.7,240.6M257.7,255.1L259.6,251.2M256.3,272.7L254.5,278.1M246.7,259.8L242.6,259.1M239.9,275.1L235.3,275.2M246.6,249.4L246.4,244.8M248.8,256.4L246.4,252.9M273.2,257.4L277.2,255.5M243.6,263.1L238.9,263.3M250.7,269.2L247.2,273.4M233.9,272.4L229.0,273.2M261.2,269.0L263.0,272.8M273.0,277.3L276.9,281.4M268.5,249.6L270.1,247.5M270.0,266.4L273.2,270.6M255.7,273.9L256.1,278.6M258.2,255.1L258.4,252.1M252.6,271.2L252.3,275.3M264.8,243.5L269.0,240.0M255.9,279.0L254.9,284.1M265.9,255.4L269.1,250.8M252.6,256.1L250.2,250.9M279.8,256.4L283.9,252.9M257.9,243.3L258.0,240.4M247.3,262.4L242.3,262.3M264.5,257.9L267.8,254.8M247.3,263.1L244.4,259.4M242.6,265.7L238.6,266.2M249.4,257.8L246.7,255.1M237.7,254.8L234.8,254.0M258.0,288.3L257.8,293.3M282.2,274.7L285.9,274.2M258.0,273.0L259.6,276.2M233.7,246.7L232.3,244.0M248.7,264.3L243.9,265.7M275.6,273.0L278.2,275.3M249.2,270.3L248.3,274.7M244.4,265.5L238.9,267.8M255.7,249.1L256.4,245.8M249.1,266.8L246.2,267.8M244.0,266.6L241.5,268.5M261.2,267.5L265.1,270.0M248.2,279.7L243.6,283.2M245.5,273.9L243.9,276.6M237.1,269.2L232.2,271.9M241.8,271.2L238.3,273.8M264.4,265.6L268.1,267.2M253.9,271.5L254.1,275.0M263.6,242.3L266.9,239.4M277.1,268.6L281.8,271.0M247.2,265.5L241.3,266.2M245.5,251.4L242.5,249.9M258.0,251.1L259.6,247.4M249.6,274.1L247.7,277.2M279.3,246.9L285.1,246.0M241.4,282.2L239.7,284.6M248.9,255.6L247.0,252.6M269.1,274.9L273.6,276.2M275.9,242.2L278.4,240.1M266.7,249.0L271.3,247.3M250.8,268.5L246.5,268.8M248.1,278.3L244.8,281.7M259.0,250.7L257.3,246.8M238.6,263.0L234.2,264.3M244.4,263.5L239.2,264.7M273.9,257.8L277.4,256.6M277.8,255.6L282.3,258.9M238.3,257.3L235.1,254.5M268.5,261.5L273.3,261.5M267.9,275.0L269.2,278.6M252.0,252.1L250.4,248.7M259.7,248.3L261.4,244.0M242.7,280.0L240.1,284.0M261.9,246.3L264.2,241.8M258.1,243.0L258.7,239.5M235.5,269.4L230.1,270.9M268.1,262.0L270.5,265.6M262.3,273.8L264.1,276.4M262.6,251.1L267.5,247.9M270.7,272.6L275.0,276.8M246.9,265.7L241.4,266.4M249.5,261.9L246.0,263.0M261.3,281.1L261.3,285.1M245.0,255.9L242.2,250.9M270.7,237.9L272.6,236.1M259.3,273.7L261.7,278.7M247.4,251.1L242.7,248.2M244.2,264.9L241.1,265.6M248.4,264.3L244.4,265.8M243.0,244.5L240.1,241.0M251.0,267.6L248.4,271.1M247.1,273.1L244.5,273.6M264.2,282.3L266.5,286.2M251.3,248.0L252.4,242.2M255.7,243.7L258.4,238.4M262.7,260.8L265.7,259.2M242.9,256.5L237.9,256.5M263.3,268.9L266.6,269.8M246.2,267.6L241.9,269.5M263.3,269.1L268.0,272.7M247.5,268.6L244.6,271.6M269.4,245.7L269.8,243.1M247.0,268.5L246.0,271.5M248.1,284.3L246.7,287.8M261.8,258.7L264.2,258.1M253.6,256.0L251.4,253.4M250.0,277.7L248.0,280.7M236.2,251.4L232.1,248.3M243.4,271.7L240.7,274.1M253.1,270.1L250.5,272.8M266.9,267.3L269.3,268.0M257.1,253.3L259.1,249.2M269.6,256.1L272.1,254.3M249.3,265.7L246.0,268.8M261.2,272.3L262.2,277.7M245.2,248.6L242.8,246.0M272.6,275.4L274.3,278.2M262.5,268.6L265.4,270.9M244.4,252.9L243.2,247.4M251.9,271.9L251.6,276.9M274.4,273.2L278.9,275.1M251.4,283.1L250.0,286.4M262.7,267.1L264.0,270.1M242.8,262.8L238.2,259.9M248.9,273.2L248.6,276.2M262.7,273.4L263.5,276.9M236.3,249.9L234.0,247.5M264.0,258.3L268.1,257.5M259.7,273.5L258.9,276.1M273.7,245.7L275.8,243.3M271.6,256.0L274.0,254.4M262.7,282.3L264.8,286.3M281.6,250.7L286.1,247.7M264.7,259.9L268.4,259.1M241.1,235.7L238.3,234.6M243.3,272.6L238.1,274.0M243.0,281.5L243.1,286.8M270.2,254.2L272.8,252.9M242.6,259.6L237.3,258.9M254.6,237.1L256.2,235.1M248.0,266.4L244.2,269.0M242.2,262.4L236.4,261.3M270.8,274.5L275.4,275.9M275.2,262.6L279.1,262.2M267.9,252.6L267.8,249.4M258.2,271.4L257.4,274.8M264.1,266.8L268.5,268.1M279.8,254.5L284.4,251.6M236.3,265.9L233.1,266.8M266.9,273.8L269.3,276.0M259.8,278.0L259.9,283.1M261.4,257.9L265.4,253.7M258.8,275.7L259.1,280.2M260.2,271.8L260.4,276.0M279.3,267.0L282.7,265.7M263.0,252.6L265.3,250.4M265.6,252.3L267.5,248.1M248.3,253.2L246.2,250.4M254.4,270.5L255.3,273.8M265.6,273.1L269.0,276.4M261.7,245.5L264.0,241.4M251.1,258.0L249.1,255.1M263.7,269.6L267.4,271.4M248.7,249.4L247.5,246.2M252.2,250.2L251.0,245.0M268.9,241.5L270.4,236.8M252.6,252.7L252.5,248.6M246.2,266.0L244.6,270.2M260.3,253.9L263.2,249.4M259.9,270.6L262.5,272.7M239.6,271.3L236.6,276.5M232.7,253.5L228.5,252.1M260.7,272.0L263.8,277.1M245.0,247.3L242.7,243.0M255.5,270.6L256.5,273.5M229.0,249.7L226.3,245.5M248.2,263.3L242.7,261.5M243.7,270.0L241.9,272.6M268.8,247.0L274.1,245.0M275.7,247.9L278.4,247.1M257.0,276.4L257.2,281.1M261.3,280.2L260.2,284.9M241.6,271.8L237.2,274.5M250.6,254.0L252.4,250.4M233.1,255.4L230.6,253.1M252.3,271.9L250.8,276.9M270.4,283.9L270.5,289.6M240.2,271.6L236.2,272.1M243.9,266.8L239.2,266.5M248.1,252.3L246.1,249.6M266.0,255.7L269.8,252.4M262.1,256.0L264.5,254.6M234.7,277.5L230.6,279.1M256.2,241.3L258.5,239.4M264.8,248.4L265.7,243.9M253.5,250.3L252.6,245.5M251.6,253.1L250.2,250.6M269.8,261.4L272.8,260.1M251.3,256.6L248.2,254.5M266.7,260.7L271.5,260.8M258.0,275.5L260.0,281.0M242.0,267.5L237.7,267.9M256.1,284.9L254.5,290.1M255.4,269.8L254.6,272.6M249.2,249.0L246.1,246.8M260.1,269.7L263.4,273.3M268.9,270.9L271.4,274.9M251.6,277.3L251.7,280.8M268.5,262.1L272.8,263.2M235.7,262.0L232.6,262.9M264.1,280.5L265.8,285.4M251.1,246.7L248.9,243.2M254.1,281.8L256.4,287.1M253.9,273.8L253.4,277.6M267.4,260.0L273.2,261.5M270.8,266.1L275.9,267.4M248.8,267.6L244.2,270.1M252.1,277.3L249.7,282.5M273.4,278.3L274.7,284.0M268.3,276.0L271.9,278.7M257.7,250.6L258.9,247.3M235.3,253.2L231.5,251.9M251.4,273.4L252.1,276.4M279.3,249.0L281.5,247.8M263.5,267.6L266.0,268.9M265.9,261.5L269.3,260.7M266.8,264.6L270.7,265.1M268.4,257.3L270.1,255.2M239.3,271.8L235.3,274.5M266.2,236.5L268.6,234.5M247.7,247.6L245.8,245.3M258.3,271.7L259.2,274.0M270.4,273.5L274.8,276.5M264.5,253.5L266.4,251.2M255.7,278.7L256.0,281.3M262.9,263.7L265.9,265.0M245.3,286.5L243.8,289.5M269.9,259.4L273.7,258.1M274.8,255.6L279.7,253.3M247.4,264.0L242.9,263.0M265.5,261.6L268.0,261.5M248.1,248.1L248.9,245.1M270.2,273.2L273.3,273.8M256.0,252.9L258.0,250.0M252.8,249.3L251.5,246.7M248.5,259.2L244.6,257.3M262.0,268.0L264.8,271.1M265.7,265.3L268.5,266.3M264.8,261.2L267.9,260.8M260.7,255.6L263.4,252.2M252.1,249.9L251.3,245.0M260.8,256.6L263.1,252.8M250.9,270.5L247.6,272.4M264.1,262.0L268.8,260.1M263.7,263.3L268.2,263.5M248.8,254.2L243.8,252.2M273.5,286.8L274.3,291.2M259.1,269.6L260.3,273.9M261.8,257.3L265.8,254.9M266.3,269.5L270.9,269.7M256.7,276.1L257.3,281.8M261.5,238.5L262.2,233.6M250.0,256.0L246.0,253.6M237.2,263.1L232.8,260.7M270.5,261.7L272.1,259.6M269.8,263.8L273.9,264.0M237.0,255.0L234.1,254.5M239.6,267.7L236.9,268.1M266.5,266.2L269.4,266.1M272.0,267.1L276.9,266.8M261.0,273.2L262.8,278.7M246.2,258.9L242.4,259.7M240.7,246.0L236.8,241.9M260.0,247.7L262.2,243.3M263.8,276.7L263.6,279.8" stroke="#fff" stroke-width="0.62" stroke-linecap="round" fill="none" opacity="1" filter="url(#bl)"/>
<path d="M249.9,251.9L247.4,249.6M255.7,254.6L252.8,251.9M261.5,236.6L261.1,232.7M257.6,243.9L258.3,240.1M273.8,251.3L278.2,249.4M268.0,266.0L271.6,267.7M238.1,257.7L234.0,256.6M245.0,258.0L242.6,255.5M250.3,285.7L249.1,290.2M240.5,280.9L237.4,283.0M275.4,284.4L279.1,287.7M272.8,274.9L276.9,276.1M265.0,261.4L270.8,261.3M243.3,233.1L239.7,230.3M254.0,253.2L253.4,248.9M246.9,261.9L242.8,258.3M272.4,232.1L275.1,228.9M250.0,239.8L248.8,235.1M270.5,275.1L276.0,277.3M269.7,273.3L274.1,272.3M242.2,260.1L236.8,260.7M251.4,255.4L249.2,252.3M254.4,255.9L252.7,250.5M247.6,250.4L245.2,246.9M275.5,271.1L280.2,273.7M279.5,238.6L283.9,235.8M271.4,255.5L275.1,253.8M266.8,265.4L270.3,267.7M245.8,287.2L243.8,289.9M267.2,240.7L270.4,237.2M252.4,284.2L250.1,288.8M249.4,269.6L248.4,274.5M256.1,274.4L257.5,277.1M266.1,269.4L267.7,271.9M272.6,267.4L275.8,268.0M249.8,267.3L247.1,270.8M280.8,281.3L286.0,281.8M264.6,258.1L268.2,256.6M241.6,287.3L240.6,292.9M267.1,257.4L269.3,255.9M280.7,261.2L283.9,260.9M251.2,274.0L247.6,277.1M251.3,270.4L249.2,273.5M253.5,274.7L253.7,279.5M253.0,270.2L251.4,274.2M251.7,252.9L251.5,250.2M261.5,256.5L266.2,253.8M239.8,276.1L236.6,279.7M248.6,262.5L245.0,261.1M262.3,272.2L265.9,276.8M251.9,236.7L251.9,231.5M238.3,258.8L235.8,258.4M273.4,282.0L277.4,285.5M272.8,278.7L276.3,280.3M252.4,268.4L250.6,272.5M247.0,240.5L246.1,236.1M276.5,260.0L280.3,261.4M258.5,269.8L261.0,272.8M250.0,277.6L248.5,281.6M237.7,238.8L235.9,234.7M246.5,253.3L243.3,253.7M275.0,283.8L277.6,286.4M257.8,250.5L257.3,245.4M249.1,267.4L245.0,270.6M267.0,269.4L269.4,271.2M262.7,250.2L262.6,247.4M253.5,254.2L253.2,248.6M256.0,253.0L255.6,247.7M269.7,261.6L272.9,260.8M242.1,267.4L237.9,269.3M267.0,261.0L272.9,262.1M244.2,271.6L240.9,272.1M256.7,244.5L256.5,241.2M247.4,259.3L244.8,256.0M251.7,273.0L249.8,276.9M244.3,288.0L243.9,290.7M263.3,249.6L264.9,247.6M244.2,270.6L241.0,272.7M253.2,254.0L250.0,250.2M269.1,260.4L273.3,258.5M243.7,262.0L238.9,262.2M257.2,283.5L255.5,287.8M269.5,266.1L273.7,266.1M250.7,256.9L247.6,255.7M237.3,253.9L232.2,251.6M265.5,283.4L268.4,287.3M239.0,251.4L235.9,250.7M224.1,263.4L220.4,264.9M271.1,259.1L275.5,255.7M261.1,256.1L263.1,253.8M245.9,254.6L243.2,250.8M242.1,248.7L241.9,245.9M248.2,278.2L244.9,281.7M250.1,266.0L247.1,267.4M254.4,255.0L257.5,253.0M248.8,277.6L245.8,278.4M242.9,253.0L240.3,251.9M265.4,261.9L269.6,260.8M272.4,256.1L274.6,254.3M285.9,271.0L289.8,268.6M270.3,231.3L275.4,228.4M244.7,268.0L241.3,272.7M253.0,298.9L255.5,304.0M273.0,255.3L276.6,255.3M253.4,254.5L249.8,250.3M246.7,251.1L244.0,249.1M259.9,252.1L261.7,249.9M258.6,254.0L260.0,249.7M265.9,272.4L267.8,274.5M243.5,232.6L244.8,227.5M274.3,265.1L278.2,264.0M248.6,290.0L247.7,292.5M249.6,245.7L246.4,243.3M247.1,246.0L245.2,240.3M246.4,258.7L244.4,255.6M261.8,237.1L260.1,232.4M266.7,268.6L271.4,270.0M249.2,235.4L250.3,231.8M241.5,249.8L240.5,246.5M268.0,282.0L271.9,286.0M270.8,278.6L272.5,281.3M240.3,263.2L236.9,265.9M248.3,257.1L245.8,253.6M273.7,287.8L277.7,292.2M246.0,271.3L244.3,274.3M258.0,249.5L258.1,246.0M223.0,251.1L220.0,250.3M245.7,273.3L243.6,275.6M263.5,271.1L266.2,275.0M259.9,270.7L262.2,272.6" stroke="#fff" stroke-width="0.5" stroke-linecap="round" fill="none" opacity="0.9" filter="url(#bl)"/>
<polygon points="265.4,262.8 264.1,264.2 263.8,265.6 263.5,267.0 262.7,268.3 261.6,269.2 260.8,270.8 259.1,270.8 257.6,270.5 256.2,271.4 254.8,270.5 253.1,271.3 252.3,269.6 250.7,269.4 249.6,268.3 248.0,267.5 247.1,266.1 246.6,264.5 246.2,262.8 248.1,261.4 248.3,259.9 249.4,258.9 250.2,257.8 251.1,256.7 252.1,255.7 253.5,255.5 254.5,253.2 256.2,254.9 257.6,254.9 259.0,255.0 260.5,255.4 261.5,256.5 262.3,257.7 264.9,257.8 265.3,259.5 265.9,261.1" fill="#fff" filter="url(#bl)"/>
</g>
<rect x="94.6" y="305.1" width="13.2" height="2" fill="#fff"/>
<line x1="351.5" y1="226" x2="351.5" y2="311.6" stroke="#111" stroke-width="1.2" />
<line x1="350.9" y1="311" x2="470.4" y2="311" stroke="#111" stroke-width="1.2" />
<line x1="348.0" y1="311.0" x2="351.5" y2="311.0" stroke="#111" stroke-width="1" />
<text x="347.6" y="314.2" font-size="9" text-anchor="end" font-weight="normal" fill="#1a1a1a" stroke="#1a1a1a" stroke-width="0.14" >0</text>
<line x1="348.0" y1="294.1" x2="351.5" y2="294.1" stroke="#111" stroke-width="1" />
<text x="347.6" y="297.3" font-size="9" text-anchor="end" font-weight="normal" fill="#1a1a1a" stroke="#1a1a1a" stroke-width="0.14" >1 × 10<tspan font-size="6" dy="-3.5">5</tspan></text>
<line x1="348.0" y1="277.2" x2="351.5" y2="277.2" stroke="#111" stroke-width="1" />
<text x="347.6" y="280.4" font-size="9" text-anchor="end" font-weight="normal" fill="#1a1a1a" stroke="#1a1a1a" stroke-width="0.14" >2 × 10<tspan font-size="6" dy="-3.5">5</tspan></text>
<line x1="348.0" y1="260.3" x2="351.5" y2="260.3" stroke="#111" stroke-width="1" />
<text x="347.6" y="263.5" font-size="9" text-anchor="end" font-weight="normal" fill="#1a1a1a" stroke="#1a1a1a" stroke-width="0.14" >3 × 10<tspan font-size="6" dy="-3.5">5</tspan></text>
<line x1="348.0" y1="243.4" x2="351.5" y2="243.4" stroke="#111" stroke-width="1" />
<text x="347.6" y="246.6" font-size="9" text-anchor="end" font-weight="normal" fill="#1a1a1a" stroke="#1a1a1a" stroke-width="0.14" >4 × 10<tspan font-size="6" dy="-3.5">5</tspan></text>
<line x1="348.0" y1="226.5" x2="351.5" y2="226.5" stroke="#111" stroke-width="1" />
<text x="347.6" y="229.7" font-size="9" text-anchor="end" font-weight="normal" fill="#1a1a1a" stroke="#1a1a1a" stroke-width="0.14" >5 × 10<tspan font-size="6" dy="-3.5">5</tspan></text>
<text x="0" y="0" font-size="9.25" text-anchor="middle" font-weight="normal" fill="#1a1a1a" stroke="#1a1a1a" stroke-width="0.14" transform="translate(314.3,269.8) rotate(-90)">Invaded area (μm<tspan font-size="6" dy="-3">2</tspan><tspan dy="3">)</tspan></text>
<line x1="375.2" y1="262.7" x2="375.2" y2="270.2" stroke="#2a2a36" stroke-width="1" />
<line x1="375.2" y1="277.1" x2="375.2" y2="280.3" stroke="#2a2a36" stroke-width="1" />
<line x1="368.5" y1="262.7" x2="381.9" y2="262.7" stroke="#2a2a36" stroke-width="1.1" />
<line x1="368.5" y1="280.3" x2="381.9" y2="280.3" stroke="#2a2a36" stroke-width="1.1" />
<rect x="362.3" y="270.2" width="25.8" height="6.900000000000034" fill="#dc3226" stroke="#7a1510" stroke-width="0.9"/>
<line x1="362.3" y1="273.7" x2="388.09999999999997" y2="273.7" stroke="#7a1510" stroke-width="1" />
<line x1="411.4" y1="240.6" x2="411.4" y2="245.8" stroke="#2a2a36" stroke-width="1" />
<line x1="411.4" y1="252.5" x2="411.4" y2="260.2" stroke="#2a2a36" stroke-width="1" />
<line x1="404.7" y1="240.6" x2="418.09999999999997" y2="240.6" stroke="#2a2a36" stroke-width="1.1" />
<line x1="404.7" y1="260.2" x2="418.09999999999997" y2="260.2" stroke="#2a2a36" stroke-width="1.1" />
<rect x="398.5" y="245.8" width="25.8" height="6.699999999999989" fill="#4f83c4" stroke="#27457a" stroke-width="0.9"/>
<line x1="398.5" y1="249.2" x2="424.29999999999995" y2="249.2" stroke="#27457a" stroke-width="1" />
<line x1="447.5" y1="240.6" x2="447.5" y2="248" stroke="#2a2a36" stroke-width="1" />
<line x1="447.5" y1="261.7" x2="447.5" y2="266.3" stroke="#2a2a36" stroke-width="1" />
<line x1="440.8" y1="240.6" x2="454.2" y2="240.6" stroke="#2a2a36" stroke-width="1.1" />
<line x1="440.8" y1="266.3" x2="454.2" y2="266.3" stroke="#2a2a36" stroke-width="1.1" />
<rect x="434.6" y="248" width="25.8" height="13.699999999999989" fill="#4646a6" stroke="#22226a" stroke-width="0.9"/>
<line x1="434.6" y1="255.8" x2="460.4" y2="255.8" stroke="#22226a" stroke-width="1" />
<line x1="376" y1="311" x2="376" y2="314.5" stroke="#111" stroke-width="1.1" />
<text x="375.4" y="324.6" font-size="8.9" text-anchor="middle" font-weight="normal" fill="#1a1a1a" stroke="#1a1a1a" stroke-width="0.14" >L53-WT</text>
<line x1="411.5" y1="311" x2="411.5" y2="314.5" stroke="#111" stroke-width="1.1" />
<text x="410.9" y="324.6" font-size="8.9" text-anchor="middle" font-weight="normal" fill="#1a1a1a" stroke="#1a1a1a" stroke-width="0.14" >L53-M1</text>
<line x1="447.7" y1="311" x2="447.7" y2="314.5" stroke="#111" stroke-width="1.1" />
<text x="447.09999999999997" y="324.6" font-size="8.9" text-anchor="middle" font-weight="normal" fill="#1a1a1a" stroke="#1a1a1a" stroke-width="0.14" >L53-M2</text>
<path d="M375.6,232 V226.3 H447.6 V238.8" fill="none" stroke="#222" stroke-width="0.9"/>
<path d="M375.4,260.4 V232.3" fill="none" stroke="#8a8a8a" stroke-width="2.2"/>
<path d="M374.4,232.3 H411.5 V238.8" fill="none" stroke="#222" stroke-width="0.9"/>
<text x="393.4" y="232.8" font-size="9" text-anchor="middle" font-weight="bold" fill="#111" letter-spacing="0.9">***</text>
<text x="413.1" y="227.1" font-size="9" text-anchor="middle" font-weight="bold" fill="#111" letter-spacing="0.9">***</text>
</g>
<g id="panelD">
<text x="5.2" y="344.4" font-size="10" text-anchor="start" font-weight="bold" fill="#111" >D</text>
<text x="148" y="354.3" font-size="9" text-anchor="middle" font-weight="bold" fill="#111" >Osteoblast</text>
<line x1="124.8" y1="355.9" x2="171.2" y2="355.9" stroke="#111" stroke-width="0.9" />
<line x1="43.4" y1="371.5" x2="43.4" y2="448.0" stroke="#1a1a1a" stroke-width="1" />
<line x1="42.9" y1="447.5" x2="145.5" y2="447.5" stroke="#1a1a1a" stroke-width="1" />
<line x1="39.9" y1="447.5" x2="43.4" y2="447.5" stroke="#1a1a1a" stroke-width="1" />
<text x="39.3" y="450.7" font-size="9" text-anchor="end" font-weight="normal" fill="#1a1a1a" stroke="#1a1a1a" stroke-width="0.14" >0</text>
<line x1="39.9" y1="432.4" x2="43.4" y2="432.4" stroke="#1a1a1a" stroke-width="1" />
<text x="39.3" y="435.59999999999997" font-size="9" text-anchor="end" font-weight="normal" fill="#1a1a1a" stroke="#1a1a1a" stroke-width="0.14" >10</text>
<line x1="39.9" y1="417.3" x2="43.4" y2="417.3" stroke="#1a1a1a" stroke-width="1" />
<text x="39.3" y="420.5" font-size="9" text-anchor="end" font-weight="normal" fill="#1a1a1a" stroke="#1a1a1a" stroke-width="0.14" >20</text>
<line x1="39.9" y1="402.2" x2="43.4" y2="402.2" stroke="#1a1a1a" stroke-width="1" />
<text x="39.3" y="405.4" font-size="9" text-anchor="end" font-weight="normal" fill="#1a1a1a" stroke="#1a1a1a" stroke-width="0.14" >30</text>
<line x1="39.9" y1="387.1" x2="43.4" y2="387.1" stroke="#1a1a1a" stroke-width="1" />
<text x="39.3" y="390.3" font-size="9" text-anchor="end" font-weight="normal" fill="#1a1a1a" stroke="#1a1a1a" stroke-width="0.14" >40</text>
<line x1="39.9" y1="372.0" x2="43.4" y2="372.0" stroke="#1a1a1a" stroke-width="1" />
<text x="39.3" y="375.2" font-size="9" text-anchor="end" font-weight="normal" fill="#1a1a1a" stroke="#1a1a1a" stroke-width="0.14" >50</text>
<line x1="73" y1="447.5" x2="73" y2="451.0" stroke="#1a1a1a" stroke-width="1" />
<line x1="116.2" y1="447.5" x2="116.2" y2="451.0" stroke="#1a1a1a" stroke-width="1" />
<text x="0" y="0" font-size="9.3" text-anchor="middle" font-weight="normal" fill="#1a1a1a" stroke="#1a1a1a" stroke-width="0.14" transform="translate(23.1,410) rotate(-90)">Tumor weight (mg)</text>
<circle cx="63.2" cy="447.5" r="1.6" fill="#111"/>
<circle cx="67.2" cy="447.5" r="1.6" fill="#111"/>
<circle cx="71.2" cy="447.5" r="1.6" fill="#111"/>
<circle cx="75.3" cy="447.5" r="1.6" fill="#111"/>
<circle cx="79.3" cy="447.5" r="1.6" fill="#111"/>
<circle cx="83.4" cy="447.5" r="1.6" fill="#111"/>
<rect x="114.65" y="383.05" width="3.1" height="3.1" fill="#111"/>
<rect x="114.65" y="392.05" width="3.1" height="3.1" fill="#111"/>
<rect x="112.95" y="394.55" width="3.1" height="3.1" fill="#111"/>
<rect x="116.75" y="399.75" width="3.1" height="3.1" fill="#111"/>
<rect x="112.95" y="411.34999999999997" width="3.1" height="3.1" fill="#111"/>
<rect x="116.75" y="410.15" width="3.1" height="3.1" fill="#111"/>
<line x1="102" y1="400" x2="131" y2="400" stroke="#222" stroke-width="1.2" />
<g transform="translate(73.3,456.6) rotate(-45)">
<text x="0" y="0" font-size="9" text-anchor="end" font-weight="normal" fill="#1a1a1a" stroke="#1a1a1a" stroke-width="0.14" >WT</text>
<text x="0" y="12" font-size="9" text-anchor="end" font-weight="normal" fill="#1a1a1a" stroke="#1a1a1a" stroke-width="0.14" >osteoblasts</text>
</g>
<g transform="translate(116.5,456.6) rotate(-45)">
<text x="0" y="0" font-size="9" text-anchor="end" font-weight="normal" fill="#1a1a1a" stroke="#1a1a1a" stroke-width="0.14" >LFS</text>
<text x="0" y="12" font-size="9" text-anchor="end" font-weight="normal" fill="#1a1a1a" stroke="#1a1a1a" stroke-width="0.14" >osteoblasts</text>
</g>
<line x1="43.4" y1="514.1" x2="43.4" y2="587.9" stroke="#1a1a1a" stroke-width="1" />
<line x1="42.9" y1="587.4" x2="145.5" y2="587.4" stroke="#1a1a1a" stroke-width="1" />
<line x1="39.9" y1="587.4" x2="43.4" y2="587.4" stroke="#1a1a1a" stroke-width="1" />
<text x="39.3" y="590.6" font-size="9" text-anchor="end" font-weight="normal" fill="#1a1a1a" stroke="#1a1a1a" stroke-width="0.14" >0</text>
<line x1="39.9" y1="569.1999999999999" x2="43.4" y2="569.1999999999999" stroke="#1a1a1a" stroke-width="1" />
<text x="39.3" y="572.4" font-size="9" text-anchor="end" font-weight="normal" fill="#1a1a1a" stroke="#1a1a1a" stroke-width="0.14" >10</text>
<line x1="39.9" y1="551.0" x2="43.4" y2="551.0" stroke="#1a1a1a" stroke-width="1" />
<text x="39.3" y="554.2" font-size="9" text-anchor="end" font-weight="normal" fill="#1a1a1a" stroke="#1a1a1a" stroke-width="0.14" >20</text>
<line x1="39.9" y1="532.8" x2="43.4" y2="532.8" stroke="#1a1a1a" stroke-width="1" />
<text x="39.3" y="536.0" font-size="9" text-anchor="end" font-weight="normal" fill="#1a1a1a" stroke="#1a1a1a" stroke-width="0.14" >30</text>
<line x1="39.9" y1="514.6" x2="43.4" y2="514.6" stroke="#1a1a1a" stroke-width="1" />
<text x="39.3" y="517.8000000000001" font-size="9" text-anchor="end" font-weight="normal" fill="#1a1a1a" stroke="#1a1a1a" stroke-width="0.14" >40</text>
<line x1="73" y1="587.4" x2="73" y2="590.9" stroke="#1a1a1a" stroke-width="1" />
<line x1="116.2" y1="587.4" x2="116.2" y2="590.9" stroke="#1a1a1a" stroke-width="1" />
<text x="0" y="0" font-size="9.3" text-anchor="middle" font-weight="normal" fill="#1a1a1a" stroke="#1a1a1a" stroke-width="0.14" transform="translate(23.1,551.5) rotate(-90)">Tumor weight (mg)</text>
<circle cx="64.3" cy="587.4" r="1.6" fill="#111"/>
<circle cx="68.4" cy="587.4" r="1.6" fill="#111"/>
<circle cx="72.4" cy="587.4" r="1.6" fill="#111"/>
<circle cx="76.4" cy="587.4" r="1.6" fill="#111"/>
<circle cx="80.5" cy="587.4" r="1.6" fill="#111"/>
<rect x="110.65" y="530.95" width="3.1" height="3.1" fill="#111"/>
<rect x="114.65" y="532.6500000000001" width="3.1" height="3.1" fill="#111"/>
<rect x="118.75" y="530.95" width="3.1" height="3.1" fill="#111"/>
<rect x="114.65" y="538.45" width="3.1" height="3.1" fill="#111"/>
<rect x="114.65" y="558.6500000000001" width="3.1" height="3.1" fill="#111"/>
<line x1="102" y1="540.3" x2="131" y2="540.3" stroke="#222" stroke-width="1.2" />
<g transform="translate(73.3,596.5) rotate(-45)">
<text x="0" y="0" font-size="9" text-anchor="end" font-weight="normal" fill="#1a1a1a" stroke="#1a1a1a" stroke-width="0.14" >WT</text>
<text x="0" y="12" font-size="9" text-anchor="end" font-weight="normal" fill="#1a1a1a" stroke="#1a1a1a" stroke-width="0.14" >osteoblasts</text>
</g>
<g transform="translate(116.5,596.5) rotate(-45)">
<text x="0" y="0" font-size="9" text-anchor="end" font-weight="normal" fill="#1a1a1a" stroke="#1a1a1a" stroke-width="0.14" >LFS</text>
<text x="0" y="12" font-size="9" text-anchor="end" font-weight="normal" fill="#1a1a1a" stroke="#1a1a1a" stroke-width="0.14" >osteoblasts</text>
</g>
<rect x="154.7" y="364.2" width="120.6" height="82.9" fill="#fff" stroke="#444" stroke-width="0.9"/>
<line x1="214.7" y1="364.2" x2="214.7" y2="447.1" stroke="#444" stroke-width="0.9" />
<line x1="154.7" y1="392.2" x2="275.3" y2="392.2" stroke="#444" stroke-width="0.9" />
<line x1="154.7" y1="420.2" x2="275.3" y2="420.2" stroke="#444" stroke-width="0.9" />
<text x="184.9" y="381.0" font-size="9" text-anchor="middle" font-weight="bold" fill="#111" >Group</text>
<text x="245" y="375.2" font-size="9" text-anchor="middle" font-weight="bold" fill="#111" >Tumor</text>
<text x="245" y="386.5" font-size="9" text-anchor="middle" font-weight="bold" fill="#111" >incidence</text>
<text x="184.9" y="403.5" font-size="9" text-anchor="middle" font-weight="normal" fill="#1a1a1a" stroke="#1a1a1a" stroke-width="0.14" >WT</text>
<text x="184.9" y="414.7" font-size="9" text-anchor="middle" font-weight="normal" fill="#1a1a1a" stroke="#1a1a1a" stroke-width="0.14" >osteoblasts</text>
<text x="245" y="408.5" font-size="9" text-anchor="middle" font-weight="normal" fill="#1a1a1a" stroke="#1a1a1a" stroke-width="0.14" >0/6</text>
<text x="184.9" y="431.5" font-size="9" text-anchor="middle" font-weight="normal" fill="#1a1a1a" stroke="#1a1a1a" stroke-width="0.14" >LFS</text>
<text x="184.9" y="442.4" font-size="9" text-anchor="middle" font-weight="normal" fill="#1a1a1a" stroke="#1a1a1a" stroke-width="0.14" >osteoblasts</text>
<text x="245" y="436.7" font-size="9" text-anchor="middle" font-weight="normal" fill="#1a1a1a" stroke="#1a1a1a" stroke-width="0.14" >6/10</text>
<rect x="154.7" y="504.2" width="120.6" height="82.9" fill="#fff" stroke="#444" stroke-width="0.9"/>
<line x1="214.7" y1="504.2" x2="214.7" y2="587.1" stroke="#444" stroke-width="0.9" />
<line x1="154.7" y1="532.2" x2="275.3" y2="532.2" stroke="#444" stroke-width="0.9" />
<line x1="154.7" y1="560.2" x2="275.3" y2="560.2" stroke="#444" stroke-width="0.9" />
<text x="184.9" y="521.0" font-size="9" text-anchor="middle" font-weight="bold" fill="#111" >Group</text>
<text x="245" y="515.2" font-size="9" text-anchor="middle" font-weight="bold" fill="#111" >Tumor</text>
<text x="245" y="526.5" font-size="9" text-anchor="middle" font-weight="bold" fill="#111" >incidence</text>
<text x="184.9" y="543.5" font-size="9" text-anchor="middle" font-weight="normal" fill="#1a1a1a" stroke="#1a1a1a" stroke-width="0.14" >WT</text>
<text x="184.9" y="554.7" font-size="9" text-anchor="middle" font-weight="normal" fill="#1a1a1a" stroke="#1a1a1a" stroke-width="0.14" >osteoblasts</text>
<text x="245" y="548.5" font-size="9" text-anchor="middle" font-weight="normal" fill="#1a1a1a" stroke="#1a1a1a" stroke-width="0.14" >0/6</text>
<text x="184.9" y="571.5" font-size="9" text-anchor="middle" font-weight="normal" fill="#1a1a1a" stroke="#1a1a1a" stroke-width="0.14" >LFS</text>
<text x="184.9" y="582.4" font-size="9" text-anchor="middle" font-weight="normal" fill="#1a1a1a" stroke="#1a1a1a" stroke-width="0.14" >osteoblasts</text>
<text x="245" y="576.7" font-size="9" text-anchor="middle" font-weight="normal" fill="#1a1a1a" stroke="#1a1a1a" stroke-width="0.14" >5/8</text>
</g>
<g id="panelE">
<text x="282.5" y="344.9" font-size="10" text-anchor="start" font-weight="bold" fill="#111" >E</text>
<clipPath id="cpE"><rect x="299.5" y="338.8" width="219.79999999999995" height="310.49999999999994"/></clipPath>
<rect x="299.5" y="338.8" width="219.79999999999995" height="310.49999999999994" fill="#f8fbff"/>
<g clip-path="url(#cpE)" fill="none" stroke-linejoin="round">
<polyline points="294,570.99 298,569.05 302,567.14 306,565.27 310,563.43 314,561.62 318,559.86 322,558.14 326,556.46 330,554.83 334,553.25 338,551.72 342,550.24 346,548.81 350,547.44 354,546.13 358,544.88 362,543.70 366,542.58 370,541.52 374,540.54 378,539.63 382,538.79 386,538.03 390,537.35 394,536.74 398,536.22 402,535.79 406,535.44 410,535.17 414,535.00 418,534.93 422,534.95 426,535.06 430,535.28 434,535.59 438,536.02 442,536.54 446,537.18 450,537.92 454,538.78 458,539.75 462,540.84 466,542.05 470,543.38 474,544.83 478,546.41 482,548.11 486,549.94 490,551.91 494,554.01 498,556.24 502,558.62 506,561.13 510,563.79 514,566.59 518,569.53 522,572.63" stroke="#bdc3cb" stroke-width="11.6"/>
<polyline points="294,570.99 298,569.05 302,567.14 306,565.27 310,563.43 314,561.62 318,559.86 322,558.14 326,556.46 330,554.83 334,553.25 338,551.72 342,550.24 346,548.81 350,547.44 354,546.13 358,544.88 362,543.70 366,542.58 370,541.52 374,540.54 378,539.63 382,538.79 386,538.03 390,537.35 394,536.74 398,536.22 402,535.79 406,535.44 410,535.17 414,535.00 418,534.93 422,534.95 426,535.06 430,535.28 434,535.59 438,536.02 442,536.54 446,537.18 450,537.92 454,538.78 458,539.75 462,540.84 466,542.05 470,543.38 474,544.83 478,546.41 482,548.11 486,549.94 490,551.91 494,554.01 498,556.24 502,558.62 506,561.13 510,563.79 514,566.59 518,569.53 522,572.63" stroke="#e6ebf2" stroke-width="5.2"/>
</g>
<rect x="299.5" y="338.8" width="219.79999999999995" height="310.49999999999994" fill="none" stroke="#7a7f85" stroke-width="1.3"/>
<rect x="322.7" y="358.7" width="173.6" height="46.2" rx="7" fill="none" stroke="#2c3846" stroke-width="1.45" stroke-dasharray="6.2 4.6"/>
<rect x="422.5" y="575.5" width="73.8" height="58.3" rx="7" fill="none" stroke="#2c3846" stroke-width="1.45" stroke-dasharray="6.2 4.6"/>
<defs><marker id="ahk" viewBox="0 0 10 10" refX="9.5" refY="5" markerWidth="8" markerHeight="7.6" orient="auto-start-reverse" markerUnits="userSpaceOnUse"><path d="M0,0.6 L10,5 L0,9.4 Z" fill="#1c1c1c"/></marker><marker id="ahr" viewBox="0 0 10 10" refX="9.5" refY="5" markerWidth="7.6" markerHeight="7.2" orient="auto" markerUnits="userSpaceOnUse"><path d="M0,0.6 L10,5 L0,9.4 Z" fill="#a5363f"/></marker></defs>
<g transform="translate(341.3,385.4) rotate(168)">
<path d="M-6.95,-4.30 Q0,-6.05 5.85,-5.40 A5.4,5.4 0 0 1 5.85,5.40 Q0,4.13 -6.95,4.30 A4.3,4.3 0 0 1 -6.95,-4.30 Z" fill="#f5dacf" stroke="#c47d6b" stroke-width="1.35" stroke-linejoin="round"/>
<path d="M-8.7,-2.2L-8.9,1.1M-6.2,3.6L-6.2,-1.6M-3.8,-3.7L-4.0,1.6M-1.4,3.9L-1.3,-1.7M1.0,-4.0L1.1,1.7M3.4,4.2L3.0,-1.8M5.8,-4.3L5.3,1.8M8.2,3.0L8.6,-1.4" stroke="#d79684" stroke-width="1.05" stroke-linecap="round" fill="none"/>
</g>
<g transform="translate(339.6,373.9) rotate(206)">
<path d="M-7.20,-4.30 Q0,-6.05 6.10,-5.40 A5.4,5.4 0 0 1 6.10,5.40 Q0,4.13 -7.20,4.30 A4.3,4.3 0 0 1 -7.20,-4.30 Z" fill="#f5dacf" stroke="#c47d6b" stroke-width="1.35" stroke-linejoin="round"/>
<path d="M-8.9,-2.2L-9.3,1.1M-6.4,3.6L-6.1,-1.6M-3.9,-3.7L-3.7,1.6M-1.4,3.9L-1.7,-1.7M1.0,-4.0L1.0,1.7M3.5,4.2L3.5,-1.8M6.0,-4.3L6.2,1.8M8.5,3.0L8.8,-1.4" stroke="#d79684" stroke-width="1.05" stroke-linecap="round" fill="none"/>
</g>
<g transform="translate(360.4,391.8) rotate(13)">
<path d="M-7.45,-4.80 Q0,-6.55 6.35,-5.90 A5.9,5.9 0 0 1 6.35,5.90 Q0,4.63 -7.45,4.80 A4.8,4.8 0 0 1 -7.45,-4.80 Z" fill="#f5dacf" stroke="#c47d6b" stroke-width="1.35" stroke-linejoin="round"/>
<path d="M-9.7,-2.6L-9.9,1.2M-7.0,4.1L-7.3,-1.7M-4.3,-4.2L-4.4,1.8M-1.6,4.4L-1.9,-1.8M1.1,-4.5L0.7,1.9M3.8,4.7L3.8,-2.0M6.5,-4.8L7.0,2.0M9.2,3.3L9.6,-1.5" stroke="#d79684" stroke-width="1.05" stroke-linecap="round" fill="none"/>
</g>
<g transform="translate(358.2,376.3) rotate(-31)">
<path d="M-7.45,-4.80 Q0,-6.55 6.35,-5.90 A5.9,5.9 0 0 1 6.35,5.90 Q0,4.63 -7.45,4.80 A4.8,4.8 0 0 1 -7.45,-4.80 Z" fill="#f5dacf" stroke="#c47d6b" stroke-width="1.35" stroke-linejoin="round"/>
<path d="M-9.7,-2.6L-9.2,1.2M-7.0,4.1L-6.5,-1.7M-4.3,-4.2L-4.7,1.8M-1.6,4.4L-2.0,-1.8M1.1,-4.5L1.5,1.9M3.8,4.7L4.1,-2.0M6.5,-4.8L6.7,2.0M9.2,3.3L9.1,-1.5" stroke="#d79684" stroke-width="1.05" stroke-linecap="round" fill="none"/>
</g>
<ellipse cx="346.2" cy="380" rx="1.5" ry="0.9" fill="#fbf3ef"/>
<text x="398.3" y="375.3" font-size="9.1" text-anchor="middle" font-weight="normal" fill="#1a1a1a" >Altered</text>
<text x="398.3" y="384.2" font-size="9.1" text-anchor="middle" font-weight="normal" fill="#1a1a1a" >mitochondrial</text>
<text x="398.3" y="392.9" font-size="9.1" text-anchor="middle" font-weight="normal" fill="#1a1a1a" >morphology</text>
<text x="453" y="384.7" font-size="9" text-anchor="start" font-weight="normal" fill="#1a1a1a" >Glycolysis</text>
<line x1="430.00" y1="381.60" x2="444.30" y2="381.60" stroke="#1c1c1c" stroke-width="1.7"/>
<path d="M450.50,381.60 L443.30,385.30 L443.30,377.90 Z" fill="#1c1c1c"/>
<line x1="439.30" y1="381.60" x2="439.30" y2="428.20" stroke="#1c1c1c" stroke-width="1.7"/>
<path d="M439.30,434.40 L435.60,427.20 L443.00,427.20 Z" fill="#1c1c1c"/>
<text x="403.5" y="418.3" font-size="9.3" text-anchor="middle" font-weight="normal" fill="#d4938b" >Topo. II</text>
<text x="402.5" y="427.7" font-size="9.3" text-anchor="middle" font-weight="normal" fill="#d4938b" >inhibitor</text>
<line x1="419.00" y1="419.50" x2="430.30" y2="419.50" stroke="#a5363f" stroke-width="1.7"/>
<path d="M436.50,419.50 L429.30,423.20 L429.30,415.80 Z" fill="#a5363f"/>
<line x1="402.80" y1="431.30" x2="402.80" y2="442.00" stroke="#a5363f" stroke-width="1.7"/>
<path d="M402.80,448.20 L399.10,441.00 L406.50,441.00 Z" fill="#a5363f"/>
<path d="M336.6,454.5 C335.6,446 347,440.1 362,440.1 C378,440.1 388.8,445.5 388.6,453.2 C388.4,459.8 383.5,463.2 377,462.9 C370,462.6 366,459.8 360,459.8 C353,459.8 348.5,461.4 344,461.2 C339.5,461.2 337,458.5 336.6,454.5 Z" fill="#d4917f" stroke="#c98976" stroke-width="1.3"/>
<path d="M341.6,455.0L342.40000000000003,449.8M345.8,445.5L345.0,454.2M350.0,457.4L350.8,447.2M354.2,443.8L353.4,454.2M358.4,457.4L359.2,447.2M362.6,443.8L361.8,454.2M366.8,457.4L367.6,447.2M371.0,443.8L370.2,454.2M375.2,457.4L376.0,447.2M379.4,443.8L378.59999999999997,454.2M383.6,455.0L384.40000000000003,449.8" stroke="#f8e7df" stroke-width="3.2" stroke-linecap="round" fill="none"/>
<path d="M414.6,456.5 C413.6,447.5 426,440.4 441,440.4 C456,440.4 465.6,445.5 465.3,453 C465,460.3 459,464.8 452,463.4 C445,462 441,459.6 435,460 C428,460.4 424,465 419.6,464.4 C415.6,463.8 414.9,460 414.6,456.5 Z" fill="#f2d8ce" stroke="#c28a79" stroke-width="2" stroke-dasharray="2.4 0.4"/>
<path d="M419.6,458L420.5,449.5M423.9,445.2L423.0,455.2M428.2,461.5L429.09999999999997,447.6M432.5,442.2L431.6,455.2M436.8,458.6L437.7,447.6M441.1,442.2L440.20000000000005,455.2M445.4,458.6L446.29999999999995,447.6M449.7,442.2L448.8,455.2M454.0,461.5L454.9,447.6M458.3,445.2L457.40000000000003,455.2M461.8,458L462.7,449.5" stroke="#c78c7b" stroke-width="2.6" stroke-linecap="round" fill="none"/>
<circle cx="455.5" cy="438.2" r="2.6" fill="#f0d3c8"/>
<circle cx="459.2" cy="435.2" r="2.0" fill="#f2d9cf"/>
<circle cx="452.8" cy="435.0" r="1.4" fill="#eccabf"/>
<circle cx="461.5" cy="439.6" r="1.6" fill="#f0d3c8"/>
<circle cx="456.5" cy="432.4" r="1.2" fill="#f2d9cf"/>
<circle cx="463.2" cy="436.3" r="1.0" fill="#eccabf"/>
<circle cx="450.6" cy="437.6" r="0.9" fill="#c78c7b"/>
<circle cx="458.2" cy="440.2" r="0.8" fill="#c78c7b"/>
<circle cx="463.8" cy="441.2" r="0.7" fill="#c78c7b"/>
<circle cx="416.6" cy="466.6" r="1.5" fill="#eccabf"/>
<circle cx="420.4" cy="468.6" r="1.2" fill="#f0d3c8"/>
<circle cx="424.2" cy="467.4" r="1.0" fill="#eccabf"/>
<circle cx="414.8" cy="469.6" r="0.9" fill="#f0d3c8"/>
<circle cx="428" cy="466.2" r="0.8" fill="#eccabf"/>
<circle cx="418.2" cy="470.6" r="0.7" fill="#eccabf"/>
<circle cx="415.2" cy="462.8" r="0.8" fill="#c78c7b"/>
<circle cx="426.5" cy="464.6" r="0.7" fill="#c78c7b"/>
<line x1="357.60" y1="434.70" x2="357.60" y2="407.50" stroke="#1c1c1c" stroke-width="1.7"/>
<path d="M357.60,401.30 L361.30,408.50 L353.90,408.50 Z" fill="#1c1c1c"/>
<line x1="392.40" y1="451.60" x2="405.20" y2="451.60" stroke="#1c1c1c" stroke-width="1.7"/>
<path d="M411.40,451.60 L404.20,455.30 L404.20,447.90 Z" fill="#1c1c1c"/>
<line x1="439.30" y1="465.00" x2="439.30" y2="490.80" stroke="#1c1c1c" stroke-width="1.7"/>
<path d="M439.30,497.00 L435.60,489.80 L443.00,489.80 Z" fill="#1c1c1c"/>
<text x="302.8" y="441.6" font-size="9" text-anchor="start" font-weight="normal" fill="#1a1a1a" >Bcl-2/xL</text>
<path d="M319.3,446 C320.8,451.5 324.5,456 329.2,459.6" fill="none" stroke="#1c1c1c" stroke-width="1.8" stroke-dasharray="3.1 2.1"/>
<path d="M326,461.6 L334.8,463.2 L331.4,457 Z" fill="#1c1c1c"/>
<ellipse cx="342.3" cy="463.9" rx="4.2" ry="3.0" fill="#d2b8e2" stroke="#a27cc4" stroke-width="0.9"/>
<rect x="347.4" y="460.4" width="19" height="6.6" rx="3.3" fill="#4d84be" stroke="#386aa3" stroke-width="0.9"/>
<text x="357.5" y="465.032" font-size="3.6" text-anchor="middle" fill="#f4f8fc">p53<tspan font-size="2.6" dy="-1.368">AD</tspan></text>
<rect x="347.4" y="467" width="19" height="6.5" rx="3.25" fill="#4d84be" stroke="#386aa3" stroke-width="0.9"/>
<text x="357.5" y="471.582" font-size="3.6" text-anchor="middle" fill="#f4f8fc">p53<tspan font-size="2.6" dy="-1.368">AD</tspan></text>
<text x="313" y="487.6" font-size="8.5" text-anchor="start" font-weight="normal" fill="#6f97c4" >PFTμ</text>
<path d="M336.6,485.3 H349.6 M349.6,480.8 V489.8" stroke="#4f7fb4" stroke-width="1.3" fill="none"/>
<line x1="356.50" y1="493.80" x2="356.50" y2="482.20" stroke="#1c1c1c" stroke-width="1.7"/>
<path d="M356.50,476.00 L360.20,483.20 L352.80,483.20 Z" fill="#1c1c1c"/>
<rect x="337.5" y="497.3" width="38" height="15" rx="7.5" fill="#4d84be" stroke="#386aa3" stroke-width="0.9"/>
<text x="357.1" y="507.908" font-size="8.4" text-anchor="middle" fill="#f4f8fc">p53<tspan font-size="6.1" dy="-3.192">AD</tspan></text>
<rect x="337.5" y="511.6" width="38" height="14.4" rx="7.2" fill="#4d84be" stroke="#386aa3" stroke-width="0.9"/>
<text x="357.1" y="521.908" font-size="8.4" text-anchor="middle" fill="#f4f8fc">p53<tspan font-size="6.1" dy="-3.192">AD</tspan></text>
<line x1="356.50" y1="556.00" x2="356.50" y2="536.50" stroke="#1c1c1c" stroke-width="1.7"/>
<path d="M356.50,530.30 L360.20,537.50 L352.80,537.50 Z" fill="#1c1c1c"/>
<path d="M356.50,562.20 L360.20,555.00 L352.80,555.00 Z" fill="#1c1c1c"/>
<rect x="337.3" y="565.4" width="38.2" height="14.3" rx="7.15" fill="#4d84be" stroke="#386aa3" stroke-width="0.9"/>
<text x="357.00000000000006" y="575.6579999999999" font-size="8.4" text-anchor="middle" fill="#f4f8fc">p53<tspan font-size="6.1" dy="-3.192">AD</tspan></text>
<rect x="337.3" y="579.7" width="38.2" height="13.5" rx="6.75" fill="#4d84be" stroke="#386aa3" stroke-width="0.9"/>
<text x="357.00000000000006" y="589.558" font-size="8.4" text-anchor="middle" fill="#f4f8fc">p53<tspan font-size="6.1" dy="-3.192">AD</tspan></text>
<rect x="429.6" y="582.2" width="40.4" height="14.2" rx="7.1" fill="#4d84be" stroke="#386aa3" stroke-width="0.9"/>
<text x="450.40000000000003" y="592.408" font-size="8.4" text-anchor="middle" fill="#f4f8fc">p53<tspan font-size="6.1" dy="-3.192">AD</tspan></text>
<rect x="429.6" y="596.2" width="40.4" height="13.2" rx="6.6" fill="#4d84be" stroke="#386aa3" stroke-width="0.9"/>
<text x="450.40000000000003" y="605.908" font-size="8.4" text-anchor="middle" fill="#f4f8fc">p53<tspan font-size="6.1" dy="-3.192">AD</tspan></text>
<text x="463.5" y="487.9" font-size="9" text-anchor="start" font-weight="normal" fill="#6690c4" >zVAD-FMK</text>
<path d="M447,485.3 H459.3 M447,481 V489.8" stroke="#4f7fb4" stroke-width="1.3" fill="none"/>
<path d="M439.2,499.3 C443.6,499.3 446.3,502.3 446.3,506 C446.3,508.6 445.2,510.3 442.8,511.4 L442.8,514.2 C442.8,514.8 442.4,515.2 441.8,515.2 L436.6,515.2 C436,515.2 435.6,514.8 435.6,514.2 L435.6,511.4 C433.2,510.3 432.1,508.6 432.1,506 C432.1,502.3 434.8,499.3 439.2,499.3 Z" fill="#8b2a22"/>
<circle cx="436" cy="508.7" r="2.05" fill="#fff"/><circle cx="442.5" cy="508.7" r="2.05" fill="#fff"/>
<path d="M439.25,511.2 L440.2,513.3 L438.3,513.3 Z" fill="#fff"/>
<path d="M429,515 L449.5,526 M449.5,515 L429,526" stroke="#e18f78" stroke-width="2.7" stroke-linecap="round" fill="none"/>
<circle cx="428.2" cy="516" r="1.6" fill="#e18f78"/>
<circle cx="429.6" cy="514" r="1.6" fill="#e18f78"/>
<circle cx="450.3" cy="516" r="1.6" fill="#e18f78"/>
<circle cx="448.9" cy="514" r="1.6" fill="#e18f78"/>
<circle cx="428.2" cy="525" r="1.6" fill="#e18f78"/>
<circle cx="429.6" cy="527" r="1.6" fill="#e18f78"/>
<circle cx="450.3" cy="525" r="1.6" fill="#e18f78"/>
<circle cx="448.9" cy="527" r="1.6" fill="#e18f78"/>
<rect x="435.6" y="509" width="7.2" height="6.2" rx="1.1" fill="#8b2a22"/>
<circle cx="436" cy="508.7" r="2.05" fill="#fff"/><circle cx="442.5" cy="508.7" r="2.05" fill="#fff"/>
<path d="M439.25,511.2 L440.2,513.3 L438.3,513.3 Z" fill="#fff"/>
<text x="456.3" y="513.2" font-size="9" text-anchor="start" font-weight="normal" fill="#1a1a1a" >Apoptosis</text>
<polyline points="331.2,617.98 331.7,617.99 332.2,617.91 332.7,617.73 333.2,617.47 333.7,617.12 334.2,616.70 334.7,616.22 335.2,615.69 335.7,615.12 336.2,614.53 336.7,613.93 337.2,613.34 337.7,612.77 338.2,612.23 338.7,611.75 339.2,611.32 339.7,610.97 340.2,610.69 340.7,610.51 341.2,610.41 341.7,610.41 342.3,610.51 342.8,610.69 343.3,610.96 343.8,611.32 344.3,611.74 344.8,612.23 345.3,612.76 345.8,613.33 346.3,613.93 346.8,614.52 347.3,615.12 347.8,615.68 348.3,616.22 348.8,616.70 349.3,617.12 349.8,617.46 350.3,617.73 350.8,617.91 351.3,617.99 351.8,617.98 352.3,617.88 352.8,617.69 353.3,617.41 353.8,617.05 354.3,616.62 354.8,616.12 355.3,615.59 355.8,615.01 356.3,614.42 356.8,613.82 357.3,613.23 357.8,612.67 358.3,612.14 358.8,611.66 359.3,611.25 359.8,610.91 360.3,610.65 360.8,610.48 361.3,610.40 361.8,610.42 362.3,610.53 362.8,610.73 363.3,611.02 363.9,611.39 364.4,611.83 364.9,612.32 365.4,612.87 365.9,613.44 366.4,614.04 366.9,614.63 367.4,615.22 367.9,615.79 368.4,616.31 368.9,616.78 369.4,617.19 369.9,617.52 370.4,617.77 370.9,617.93 371.4,618.00 371.9,617.97 372.4,617.85 372.9,617.64 373.4,617.35 373.9,616.97 374.4,616.53 374.9,616.03 375.4,615.48 375.9,614.90 376.4,614.31 376.9,613.71 377.4,613.12 377.9,612.56 378.4,612.05 378.9,611.58 379.4,611.18 379.9,610.86 380.4,610.61 380.9,610.46 381.4,610.40 381.9,610.44 382.4,610.56 382.9,610.78 383.4,611.09 383.9,611.47 384.4,611.92 384.9,612.42 385.5,612.97 386.0,613.55 386.5,614.15 387.0,614.75 387.5,615.33 388.0,615.89 388.5,616.40 389.0,616.86 389.5,617.25 390.0,617.57 390.5,617.80 391.0,617.95 391.5,618.00 392.0,617.96 392.5,617.82 393.0,617.59 393.5,617.28 394.0,616.89 394.5,616.44 395.0,615.93 395.5,615.38 396.0,614.79" fill="none" stroke="#6f3ea2" stroke-width="2.0" stroke-linecap="round"/>
<polyline points="331.2,610.42 331.7,610.41 332.2,610.49 332.7,610.67 333.2,610.93 333.7,611.28 334.2,611.70 334.7,612.18 335.2,612.71 335.7,613.28 336.2,613.87 336.7,614.47 337.2,615.06 337.7,615.63 338.2,616.17 338.7,616.65 339.2,617.08 339.7,617.43 340.2,617.71 340.7,617.89 341.2,617.99 341.7,617.99 342.3,617.89 342.8,617.71 343.3,617.44 343.8,617.08 344.3,616.66 344.8,616.17 345.3,615.64 345.8,615.07 346.3,614.47 346.8,613.88 347.3,613.28 347.8,612.72 348.3,612.18 348.8,611.70 349.3,611.28 349.8,610.94 350.3,610.67 350.8,610.49 351.3,610.41 351.8,610.42 352.3,610.52 352.8,610.71 353.3,610.99 353.8,611.35 354.3,611.78 354.8,612.28 355.3,612.81 355.8,613.39 356.3,613.98 356.8,614.58 357.3,615.17 357.8,615.73 358.3,616.26 358.8,616.74 359.3,617.15 359.8,617.49 360.3,617.75 360.8,617.92 361.3,618.00 361.8,617.98 362.3,617.87 362.8,617.67 363.3,617.38 363.9,617.01 364.4,616.57 364.9,616.08 365.4,615.53 365.9,614.96 366.4,614.36 366.9,613.77 367.4,613.18 367.9,612.61 368.4,612.09 368.9,611.62 369.4,611.21 369.9,610.88 370.4,610.63 370.9,610.47 371.4,610.40 371.9,610.43 372.4,610.55 372.9,610.76 373.4,611.05 373.9,611.43 374.4,611.87 374.9,612.37 375.4,612.92 375.9,613.50 376.4,614.09 376.9,614.69 377.4,615.28 377.9,615.84 378.4,616.35 378.9,616.82 379.4,617.22 379.9,617.54 380.4,617.79 380.9,617.94 381.4,618.00 381.9,617.96 382.4,617.84 382.9,617.62 383.4,617.31 383.9,616.93 384.4,616.48 384.9,615.98 385.5,615.43 386.0,614.85 386.5,614.25 387.0,613.65 387.5,613.07 388.0,612.51 388.5,612.00 389.0,611.54 389.5,611.15 390.0,610.83 390.5,610.60 391.0,610.45 391.5,610.40 392.0,610.44 392.5,610.58 393.0,610.81 393.5,611.12 394.0,611.51 394.5,611.96 395.0,612.47 395.5,613.02 396.0,613.61" fill="none" stroke="#4a2878" stroke-width="2.0" stroke-linecap="round"/>
<polyline points="426.3,617.64 426.8,617.77 427.3,617.80 427.8,617.75 428.3,617.61 428.8,617.38 429.3,617.08 429.8,616.71 430.3,616.28 430.8,615.80 431.3,615.28 431.8,614.73 432.3,614.17 432.8,613.61 433.3,613.06 433.8,612.55 434.3,612.07 434.8,611.64 435.3,611.28 435.8,610.99 436.3,610.77 436.8,610.64 437.4,610.60 437.9,610.64 438.4,610.77 438.9,610.99 439.4,611.28 439.9,611.64 440.4,612.07 440.9,612.55 441.4,613.07 441.9,613.61 442.4,614.17 442.9,614.73 443.4,615.28 443.9,615.80 444.4,616.28 444.9,616.71 445.4,617.08 445.9,617.38 446.4,617.61 446.9,617.75 447.4,617.80 447.9,617.76 448.4,617.64 448.9,617.44 449.4,617.15 449.9,616.80 450.4,616.38 450.9,615.91 451.4,615.39 451.9,614.85 452.4,614.29 452.9,613.73 453.4,613.18 453.9,612.65 454.4,612.17 454.9,611.73 455.4,611.35 455.9,611.04 456.4,610.81 456.9,610.66 457.4,610.60 457.9,610.63 458.4,610.74 459.0,610.94 459.5,611.21 460.0,611.56 460.5,611.97 461.0,612.44 461.5,612.95 462.0,613.49 462.5,614.05 463.0,614.61 463.5,615.16 464.0,615.69 464.5,616.18 465.0,616.63 465.5,617.01 466.0,617.33 466.5,617.57 467.0,617.72 467.5,617.80 468.0,617.78 468.5,617.68 469.0,617.49 469.5,617.22 470.0,616.88 470.5,616.47 471.0,616.01 471.5,615.50 472.0,614.97 472.5,614.41 473.0,613.85 473.5,613.30 474.0,612.76 474.5,612.27 475.0,611.82 475.5,611.43 476.0,611.10 476.5,610.86 477.0,610.69 477.5,610.61 478.0,610.61 478.5,610.71 479.0,610.89 479.5,611.15 480.0,611.48 480.5,611.88 481.1,612.34 481.6,612.84 482.1,613.37 482.6,613.93 483.1,614.49 483.6,615.05 484.1,615.58 484.6,616.08 485.1,616.54 485.6,616.93 486.1,617.26 486.6,617.52 487.1,617.70 487.6,617.79 488.1,617.79 488.6,617.71 489.1,617.54 489.6,617.29 490.1,616.96 490.6,616.57 491.1,616.11 491.6,615.62" fill="none" stroke="#0f5f66" stroke-width="2.0" stroke-linecap="round"/>
<polyline points="426.3,610.76 426.8,610.63 427.3,610.60 427.8,610.65 428.3,610.79 428.8,611.02 429.3,611.32 429.8,611.69 430.3,612.12 430.8,612.60 431.3,613.12 431.8,613.67 432.3,614.23 432.8,614.79 433.3,615.34 433.8,615.85 434.3,616.33 434.8,616.76 435.3,617.12 435.8,617.41 436.3,617.63 436.8,617.76 437.4,617.80 437.9,617.76 438.4,617.63 438.9,617.41 439.4,617.12 439.9,616.76 440.4,616.33 440.9,615.85 441.4,615.33 441.9,614.79 442.4,614.23 442.9,613.67 443.4,613.12 443.9,612.60 444.4,612.12 444.9,611.69 445.4,611.32 445.9,611.02 446.4,610.79 446.9,610.65 447.4,610.60 447.9,610.64 448.4,610.76 448.9,610.96 449.4,611.25 449.9,611.60 450.4,612.02 450.9,612.49 451.4,613.01 451.9,613.55 452.4,614.11 452.9,614.67 453.4,615.22 453.9,615.75 454.4,616.23 454.9,616.67 455.4,617.05 455.9,617.36 456.4,617.59 456.9,617.74 457.4,617.80 457.9,617.77 458.4,617.66 459.0,617.46 459.5,617.19 460.0,616.84 460.5,616.43 461.0,615.96 461.5,615.45 462.0,614.91 462.5,614.35 463.0,613.79 463.5,613.24 464.0,612.71 464.5,612.22 465.0,611.77 465.5,611.39 466.0,611.07 466.5,610.83 467.0,610.68 467.5,610.60 468.0,610.62 468.5,610.72 469.0,610.91 469.5,611.18 470.0,611.52 470.5,611.93 471.0,612.39 471.5,612.90 472.0,613.43 472.5,613.99 473.0,614.55 473.5,615.10 474.0,615.64 474.5,616.13 475.0,616.58 475.5,616.97 476.0,617.30 476.5,617.54 477.0,617.71 477.5,617.79 478.0,617.79 478.5,617.69 479.0,617.51 479.5,617.25 480.0,616.92 480.5,616.52 481.1,616.06 481.6,615.56 482.1,615.03 482.6,614.47 483.1,613.91 483.6,613.35 484.1,612.82 484.6,612.32 485.1,611.86 485.6,611.47 486.1,611.14 486.6,610.88 487.1,610.70 487.6,610.61 488.1,610.61 488.6,610.69 489.1,610.86 489.6,611.11 490.1,611.44 490.6,611.83 491.1,612.29 491.6,612.78" fill="none" stroke="#c4203a" stroke-width="2.0" stroke-linecap="round"/>
<text x="338.5" y="627.2" font-size="9" text-anchor="start" font-weight="normal" fill="#1a1a1a" >p53RE</text>
<text x="427.3" y="627.6" font-size="9" text-anchor="start" font-weight="normal" fill="#1a1a1a" >ETS motif</text>
<path d="M375.9,613.5 V597.8 H391.5" fill="none" stroke="#4a2878" stroke-width="2.1"/>
<path d="M390.2,593.9 L397.5,597.8 L390.2,601.7 Z" fill="#4a2878"/>
<path d="M378.3,592.8 L388,602.8 M388,592.8 L378.3,602.8" stroke="#c63c3a" stroke-width="2.7" stroke-linecap="round" fill="none" opacity="0.9"/>
<path d="M471.6,612.5 V598.5 H486" fill="none" stroke="#2a527c" stroke-width="2.2"/>
<path d="M484.4,593.6 L492.9,598.5 L484.4,603.4 Z" fill="#2a527c"/>
</g>
</svg>
</body>
</html>
